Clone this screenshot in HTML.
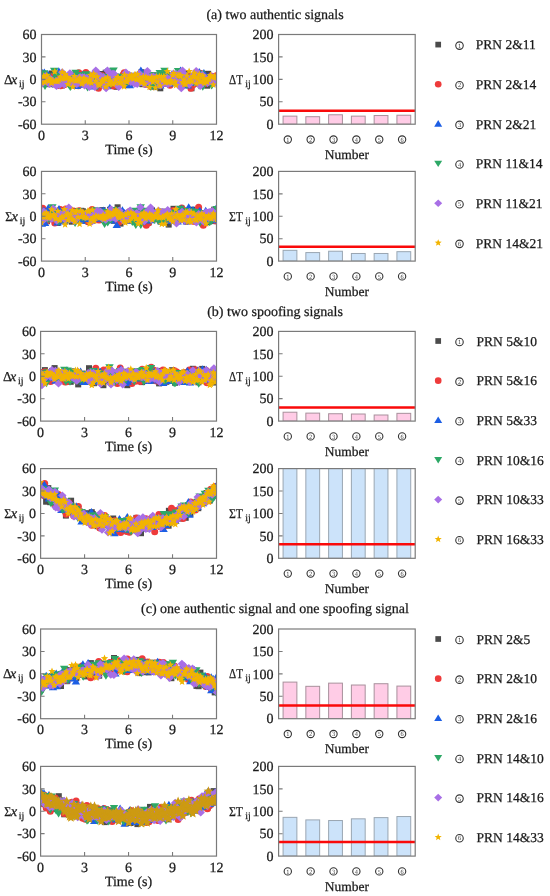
<!DOCTYPE html><html><head><meta charset="utf-8"><style>html,body{margin:0;padding:0;background:#fff;width:550px;height:896px;overflow:hidden}svg{display:block;filter:blur(0.35px)}text{font-family:"Liberation Serif", serif;fill:#1a1a1a;text-rendering:geometricPrecision;stroke:#1a1a1a;stroke-width:0.25px}</style></head><body>
<svg width="550" height="896" viewBox="0 0 550 896">
<defs>
<marker id="m0" markerUnits="userSpaceOnUse" markerWidth="12" markerHeight="12" refX="0" refY="0" overflow="visible"><rect x="-3.00" y="-3.00" width="6.00" height="6.00" fill="#4b4b4b"/></marker>
<marker id="m1" markerUnits="userSpaceOnUse" markerWidth="12" markerHeight="12" refX="0" refY="0" overflow="visible"><circle r="3.50" fill="#EE3B3B"/></marker>
<marker id="m2" markerUnits="userSpaceOnUse" markerWidth="12" markerHeight="12" refX="0" refY="0" overflow="visible"><path d="M0,-4.00 L4.20,2.90 L-4.20,2.90Z" fill="#1C5EE4"/></marker>
<marker id="m3" markerUnits="userSpaceOnUse" markerWidth="12" markerHeight="12" refX="0" refY="0" overflow="visible"><path d="M0,3.70 L4.20,-3.00 L-4.20,-3.00Z" fill="#2DA866"/></marker>
<marker id="m4" markerUnits="userSpaceOnUse" markerWidth="12" markerHeight="12" refX="0" refY="0" overflow="visible"><path d="M0,-4.00 L4.20,0 L0,4.00 L-4.20,0Z" fill="#A86FE6"/></marker>
<marker id="m5" markerUnits="userSpaceOnUse" markerWidth="12" markerHeight="12" refX="0" refY="0" overflow="visible"><path d="M0.00,-3.90 L1.00,-1.38 L3.71,-1.21 L1.62,0.53 L2.29,3.16 L0.00,1.70 L-2.29,3.16 L-1.62,0.53 L-3.71,-1.21 L-1.00,-1.38Z" fill="#F2B400"/></marker>
<marker id="m6" markerUnits="userSpaceOnUse" markerWidth="12" markerHeight="12" refX="0" refY="0" overflow="visible"><path d="M0.00,-5.00 L1.35,-1.86 L4.76,-1.55 L2.19,0.71 L2.94,4.05 L0.00,2.30 L-2.94,4.05 L-2.19,0.71 L-4.76,-1.55 L-1.35,-1.86Z" fill="#CD9A12"/></marker>
</defs>
<text x="275" y="18.6" font-size="14" text-anchor="middle">(a) two authentic signals</text>
<text x="275" y="315.6" font-size="14" text-anchor="middle">(b) two spoofing signals</text>
<text x="275" y="613.3" font-size="14" text-anchor="middle">(c) one authentic signal and one spoofing signal</text>
<clipPath id="c0"><rect x="41.50" y="34.50" width="175.00" height="89.70"/></clipPath>
<g clip-path="url(#c0)" fill="none" stroke="none">
<polyline points="41.6,79.3 43.1,81.8 44.2,80.5 44.7,81.3 46.0,79.3 47.8,80.7 48.0,80.4 50.1,84.2 51.2,82.2 52.0,73.5 53.0,81.7 54.2,83.1 55.3,78.2 56.7,74.4 57.9,84.5 59.2,80.1 60.9,81.6 61.8,85.5 62.8,76.8 64.4,79.4 64.7,79.1 65.8,82.0 67.5,77.8 68.0,81.2 69.1,79.9 70.9,83.2 72.0,83.6 73.7,74.7 74.5,81.1 75.6,78.3 76.7,79.5 77.6,80.9 78.5,81.1 79.9,77.1 81.7,80.4 82.3,79.9 83.6,79.3 84.4,75.2 86.5,77.0 86.9,78.0 88.2,81.3 90.1,84.2 90.8,76.0 92.4,76.0 93.3,79.8 94.6,77.4 95.1,76.6 96.7,76.4 97.9,76.1 99.5,81.0 100.1,74.0 101.5,83.7 102.1,76.3 103.6,77.6 104.7,76.3 105.7,72.7 107.6,74.1 108.3,83.4 110.2,85.3 110.9,76.5 112.1,82.9 113.3,79.4 114.5,76.4 115.1,85.1 116.6,86.8 117.5,78.4 118.9,79.2 119.7,80.2 121.9,79.2 122.2,82.4 123.9,84.7 124.7,79.9 126.5,82.8 127.4,85.1 128.0,77.6 130.0,79.6 131.3,77.9 132.4,82.8 133.2,81.7 133.9,82.9 135.1,82.5 137.1,78.7 137.9,82.1 138.6,78.1 140.6,78.2 141.5,72.2 142.6,84.2 143.5,76.2 144.8,79.7 145.7,79.4 146.7,84.4 148.8,81.0 149.5,76.7 150.8,79.6 151.7,79.1 153.4,80.4 153.7,75.3 155.3,79.4 156.1,87.1 157.3,81.8 159.5,86.3 160.3,88.3 161.2,81.2 162.5,74.7 164.1,79.2 164.6,83.5 166.1,82.7 167.4,75.4 168.2,78.8 169.5,79.2 171.0,79.5 172.3,79.2 172.6,76.5 174.7,77.4 174.8,78.6 176.9,83.0 178.1,77.6 178.5,81.8 180.0,75.5 181.6,83.8 181.9,79.8 183.8,79.4 185.1,84.0 186.0,73.3 187.4,74.2 188.0,81.0 189.1,76.6 190.5,78.0 191.5,88.3 192.8,78.5 194.7,79.6 195.4,79.1 196.3,83.1 197.4,80.3 199.4,80.0 200.0,75.2 201.8,78.2 202.4,79.4 203.6,74.0 205.2,81.3 206.2,80.7 207.2,85.7 208.2,73.8 209.9,76.0 210.5,76.1 212.3,77.0 212.5,79.0 214.1,78.6 215.3,80.2 217.0,80.1" marker-start="url(#m0)" marker-mid="url(#m0)" marker-end="url(#m0)"/>
<polyline points="41.8,78.0 42.9,80.1 43.8,82.0 44.9,77.3 46.1,79.9 46.8,77.2 48.9,79.5 49.8,83.2 50.8,79.7 52.1,79.2 53.5,76.0 54.3,82.5 56.0,79.5 57.3,85.4 57.8,77.1 58.7,83.1 60.6,85.7 62.0,79.6 62.2,75.5 64.1,84.7 65.4,83.2 66.7,82.0 66.9,83.3 68.0,78.0 70.3,82.2 70.4,81.9 71.7,77.3 73.3,82.0 74.3,77.8 75.9,82.8 76.4,83.6 78.4,85.8 78.8,72.8 80.6,80.5 80.9,78.5 82.6,79.5 83.2,78.8 84.7,79.2 85.9,72.6 87.6,83.0 88.4,84.8 89.1,82.9 91.4,84.0 92.5,76.7 93.7,76.5 94.1,82.7 95.4,84.2 96.4,80.6 97.4,74.5 98.5,88.3 100.2,77.5 101.0,83.1 102.2,75.7 104.2,83.1 104.9,80.4 105.7,84.6 107.5,82.8 108.2,74.5 109.7,76.5 110.5,80.8 112.0,82.4 113.3,86.0 114.4,80.7 115.4,79.5 117.0,79.6 118.3,79.7 118.6,83.3 119.8,79.6 120.9,79.5 123.1,74.8 124.2,72.8 124.6,79.8 126.6,82.0 126.9,79.6 128.4,81.5 129.6,82.0 131.2,79.6 131.4,83.0 132.9,77.2 134.4,79.7 135.0,78.5 136.3,80.0 137.8,81.9 139.4,82.7 140.5,80.2 141.7,81.3 142.8,78.5 143.9,79.4 145.3,84.1 146.2,79.1 147.5,84.1 148.1,81.5 149.2,80.4 151.0,86.6 151.5,79.0 153.6,78.8 154.4,79.9 155.2,80.8 157.1,80.7 157.4,82.8 159.0,80.3 159.6,81.3 161.8,79.0 162.6,83.6 164.0,78.5 164.6,78.8 166.3,79.8 167.4,80.9 168.5,77.4 170.0,85.2 170.6,77.7 171.8,78.5 173.3,78.4 174.6,78.0 175.2,81.6 176.8,80.3 177.4,77.1 179.0,77.8 180.4,78.6 180.8,84.7 182.7,77.5 183.0,75.2 185.3,75.8 185.9,78.5 187.0,84.8 188.6,76.0 189.5,79.9 190.9,88.2 191.4,78.0 193.1,84.6 194.3,83.9 195.9,81.6 196.0,74.9 197.7,80.7 199.0,78.4 200.1,73.2 200.7,73.7 202.5,79.7 203.3,80.2 204.4,83.8 206.4,81.8 206.8,77.9 208.2,78.0 209.7,79.0 210.9,75.9 211.9,82.1 213.3,79.5 214.1,76.8 215.5,77.3 216.9,75.6" marker-start="url(#m1)" marker-mid="url(#m1)" marker-end="url(#m1)"/>
<polyline points="42.0,79.5 42.4,72.9 44.3,72.4 45.2,74.7 46.6,76.9 47.3,81.7 48.0,74.3 50.1,79.5 50.6,79.6 51.7,80.4 53.6,79.0 54.6,80.9 55.3,79.6 56.5,83.2 58.5,80.7 58.8,71.3 60.5,79.6 61.0,80.2 63.0,77.5 63.4,76.9 65.0,83.3 65.6,80.1 67.4,76.1 68.9,78.4 69.2,78.9 70.6,73.9 72.3,81.7 73.3,79.1 74.2,81.2 75.7,74.1 76.7,86.2 78.3,81.7 78.8,81.2 80.6,77.0 81.6,77.2 82.9,74.4 83.6,84.9 85.2,76.7 86.4,80.4 87.2,81.7 87.9,77.5 90.2,82.6 91.1,86.6 91.7,80.7 93.4,84.6 94.1,81.6 95.5,78.0 97.1,78.3 97.8,73.8 98.8,80.1 100.0,84.7 100.9,82.0 102.2,82.6 103.5,83.6 104.5,77.8 105.6,81.6 107.2,86.3 108.1,76.9 109.9,79.7 111.3,78.1 111.7,79.0 113.2,77.1 114.3,79.2 115.0,75.0 116.2,77.9 118.3,78.0 119.0,77.9 120.5,84.5 120.9,79.9 122.7,80.3 124.1,78.6 125.3,84.1 125.5,73.6 127.3,79.0 128.3,83.6 129.9,85.4 130.3,80.3 131.7,79.7 133.5,81.9 134.2,79.0 135.4,81.6 137.2,77.4 137.6,81.9 138.4,79.5 140.0,75.9 140.9,70.4 142.0,82.9 143.8,81.0 145.4,82.3 146.1,76.6 147.4,83.4 148.2,81.1 149.6,79.5 151.0,82.8 152.0,82.7 153.4,81.0 154.3,86.7 155.1,84.4 156.7,80.8 157.8,78.8 158.6,80.0 160.3,85.6 161.7,81.0 162.0,76.5 163.7,77.4 165.1,79.6 165.9,82.5 166.9,77.1 168.2,81.4 169.6,83.5 170.9,82.2 171.9,74.3 172.6,78.6 174.6,75.3 175.9,81.0 176.1,76.1 177.4,81.5 178.5,79.9 180.5,70.6 181.7,76.7 181.9,81.1 183.4,79.6 184.4,78.2 185.9,75.1 187.6,81.1 187.8,85.5 189.1,80.3 190.6,79.3 191.9,79.0 193.3,74.7 194.1,78.2 194.9,76.5 196.4,83.2 198.3,76.3 199.2,72.0 199.6,76.6 201.6,78.5 202.2,78.8 203.9,73.1 204.2,82.6 206.4,79.7 206.7,77.7 208.2,76.7 209.6,80.9 210.6,78.3 211.4,80.3 212.6,78.9 213.9,79.8 214.8,83.4 216.2,79.4" marker-start="url(#m2)" marker-mid="url(#m2)" marker-end="url(#m2)"/>
<polyline points="41.7,76.4 43.0,79.5 44.2,73.2 45.0,86.3 45.8,80.4 46.8,76.3 49.0,80.6 50.3,82.1 50.6,80.3 52.5,84.2 53.1,78.9 54.2,70.8 55.6,75.3 56.2,83.2 57.9,82.4 58.8,80.8 60.5,75.8 61.5,82.2 63.1,81.8 64.3,76.2 64.8,76.3 65.9,80.7 67.9,83.3 68.5,84.8 69.2,81.8 70.3,87.2 72.6,76.7 73.3,81.6 73.9,77.7 75.6,72.8 76.7,75.2 77.8,83.4 79.6,76.3 80.8,75.3 81.0,82.0 82.2,82.7 83.7,79.7 85.3,85.0 86.3,74.2 87.6,87.8 88.6,83.2 89.3,80.3 91.2,80.1 91.4,78.8 93.4,78.4 94.0,80.1 95.5,75.4 97.3,86.9 97.9,79.4 98.5,81.9 100.1,78.9 101.6,78.6 102.1,82.6 103.5,81.6 104.4,76.6 106.1,78.1 107.1,81.7 108.5,72.2 109.4,71.2 111.0,84.5 111.6,78.3 113.6,70.5 114.9,76.6 115.5,78.6 116.6,80.1 118.3,81.3 118.8,80.1 120.5,81.3 121.1,76.7 122.8,80.7 123.5,80.9 125.0,83.6 126.6,79.5 126.7,82.5 128.8,80.0 129.6,75.7 130.6,78.1 131.8,77.6 132.6,78.1 134.0,79.1 135.6,79.8 136.2,80.4 138.0,76.7 139.5,83.2 140.7,74.6 141.8,79.2 142.9,82.0 143.3,81.1 145.4,81.7 145.7,78.8 147.6,81.9 148.8,75.3 149.7,82.1 150.8,87.3 151.6,81.9 153.1,86.4 154.0,79.5 155.0,75.6 156.2,77.1 158.1,84.0 159.4,82.0 159.7,73.1 160.7,78.2 162.2,79.3 163.2,75.6 164.5,70.7 166.1,74.8 167.1,78.9 168.3,78.1 169.2,77.2 170.9,81.5 171.6,83.1 172.9,79.2 174.2,82.7 175.9,79.6 176.3,79.0 178.0,71.1 178.7,82.3 180.6,79.8 181.1,79.9 182.4,77.8 184.1,75.7 185.0,81.1 185.5,82.2 186.7,85.1 188.9,82.6 188.9,77.5 190.4,79.2 192.4,82.9 192.4,80.7 193.8,79.2 195.0,77.6 196.1,81.4 197.7,80.2 199.0,85.7 199.8,83.4 200.8,73.7 202.8,87.0 203.9,80.5 204.8,78.6 205.5,80.7 207.2,82.2 208.4,79.6 209.4,79.4 211.1,79.6 211.7,85.9 213.0,79.9 213.7,82.4 215.4,81.3 216.8,78.6" marker-start="url(#m3)" marker-mid="url(#m3)" marker-end="url(#m3)"/>
<polyline points="42.0,83.7 42.9,80.1 44.3,78.4 45.4,76.2 46.0,77.9 46.9,78.0 48.8,82.0 49.3,83.9 50.8,79.1 52.6,81.8 53.3,83.9 54.4,83.8 56.1,81.1 56.5,85.9 58.5,84.1 59.6,85.1 60.1,78.7 61.3,77.9 62.2,72.3 64.3,84.6 64.6,81.7 65.6,76.1 67.8,80.1 68.6,80.5 69.9,73.3 71.1,80.5 71.5,83.4 72.7,84.0 74.4,78.2 75.0,78.3 76.7,84.2 78.2,82.8 79.3,77.5 80.4,77.3 80.9,81.6 82.3,77.2 84.2,77.3 84.5,85.6 86.2,80.4 86.8,77.9 89.0,81.4 89.3,86.9 90.7,80.3 92.1,76.7 93.4,73.8 94.9,87.0 95.8,70.4 96.5,83.3 97.4,76.0 99.3,75.0 100.8,75.9 100.8,78.8 102.9,83.4 103.4,77.1 104.9,81.9 106.1,88.2 107.4,70.4 109.0,76.9 109.8,73.0 110.7,82.6 112.2,74.2 113.1,73.8 114.2,73.9 115.3,79.4 116.7,83.6 117.6,80.0 118.7,87.1 119.8,85.3 121.3,79.0 122.3,82.8 124.1,79.9 125.3,79.7 125.9,72.6 127.4,74.8 128.9,79.5 129.4,75.1 130.8,82.1 131.9,80.5 133.3,76.2 134.8,83.7 135.0,80.3 137.2,84.0 138.0,78.9 139.3,73.6 140.3,82.0 141.8,78.6 142.3,82.5 143.9,83.4 144.6,83.7 146.0,74.2 147.4,71.1 148.0,77.7 149.0,81.9 151.1,76.9 152.3,80.5 153.3,76.5 154.0,78.3 155.6,78.4 156.1,77.2 158.0,81.4 159.0,80.8 160.3,85.4 161.2,80.9 162.2,84.3 163.9,79.9 164.8,82.7 166.3,79.0 167.0,77.8 167.9,84.3 169.6,82.2 170.8,82.7 172.4,76.7 173.5,73.4 173.7,76.4 175.7,80.6 176.3,74.2 178.0,84.7 178.8,74.1 179.9,81.7 181.3,88.3 182.5,70.4 183.8,73.8 184.9,83.0 186.2,78.8 187.0,80.1 188.5,79.0 189.3,84.6 190.8,81.7 191.8,77.7 193.1,78.6 193.6,75.1 195.4,79.1 196.2,71.1 197.6,81.9 198.4,78.4 200.2,86.1 201.7,83.8 202.2,74.7 203.1,82.7 204.9,77.5 205.5,79.6 207.6,83.0 207.8,80.6 209.3,81.2 210.6,81.1 211.4,76.7 212.8,77.1 213.9,81.4 215.6,82.5 217.1,78.4" marker-start="url(#m4)" marker-mid="url(#m4)" marker-end="url(#m4)"/>
<polyline points="41.7,82.6 43.1,78.4 43.7,76.2 44.7,82.3 45.6,80.1 46.9,75.4 49.0,81.1 49.9,78.7 51.5,83.0 51.6,82.3 53.1,81.2 54.8,71.7 55.8,80.8 56.3,81.2 57.8,81.3 59.3,79.9 60.5,77.0 61.4,78.7 62.3,72.1 64.4,78.6 65.0,74.3 66.4,78.4 67.4,77.2 68.0,84.4 69.4,79.8 70.4,79.6 71.7,80.2 72.9,86.9 74.3,76.3 75.4,80.7 76.6,80.9 78.3,80.2 78.5,80.2 79.8,77.9 81.8,83.8 82.6,82.6 83.7,78.3 84.7,78.8 86.2,80.7 87.0,81.4 88.9,82.3 90.0,79.6 90.6,75.2 91.4,83.1 93.6,74.0 94.1,76.4 95.7,80.9 97.1,76.6 98.2,84.5 99.5,85.4 100.2,83.9 101.8,80.8 102.5,80.5 103.5,81.2 104.9,79.0 105.9,86.9 107.6,77.6 108.8,84.3 109.2,81.7 110.4,80.8 111.8,83.4 113.1,84.2 114.9,82.9 116.0,79.4 117.2,77.3 118.1,77.4 119.2,82.8 119.9,82.1 121.2,82.6 122.0,77.8 124.1,86.5 124.6,75.0 125.6,81.1 127.0,82.1 128.2,78.2 129.8,75.7 130.2,78.1 131.6,75.7 133.6,78.9 134.7,75.0 135.6,75.0 136.7,79.7 137.5,74.3 139.4,78.8 140.5,79.0 141.3,82.6 142.1,80.4 143.3,76.6 144.7,84.0 145.8,77.1 146.7,78.1 148.3,78.4 149.5,87.1 150.5,79.7 151.8,77.1 152.9,82.0 154.1,79.0 155.6,87.7 156.6,77.0 157.4,81.7 159.3,76.3 160.1,85.8 161.3,76.9 162.7,80.2 163.9,76.5 165.2,82.6 166.4,81.5 167.4,71.5 168.6,82.3 169.1,81.8 170.9,80.3 171.6,82.9 172.8,75.2 173.8,73.3 175.3,81.8 176.0,85.4 177.9,75.2 179.2,75.5 180.4,76.5 180.8,75.3 182.6,82.4 184.0,79.9 184.2,84.2 185.6,84.3 186.9,75.9 188.3,81.7 189.1,71.3 190.7,79.1 191.7,81.6 193.2,76.5 194.2,73.0 195.6,77.6 196.2,83.6 197.9,78.0 199.2,74.5 200.3,81.1 200.7,82.1 202.9,75.8 203.7,78.9 204.5,83.2 205.9,80.7 207.1,82.0 208.3,78.3 209.2,79.0 210.4,75.3 211.6,76.9 213.3,84.8 214.1,77.9 214.8,76.2 216.4,77.7" marker-start="url(#m5)" marker-mid="url(#m5)" marker-end="url(#m5)"/>
</g>
<rect x="41.50" y="34.50" width="175.00" height="89.70" fill="none" stroke="#7a7a7a" stroke-width="1.2"/>
<path d="M41.50,56.92h4M41.50,79.35h4M41.50,101.77h4M85.25,124.20v-4M129.00,124.20v-4M172.75,124.20v-4" stroke="#7a7a7a" stroke-width="1.1" fill="none"/>
<text x="36.60" y="39.20" font-size="14" text-anchor="end">60</text>
<text x="36.60" y="61.62" font-size="14" text-anchor="end">30</text>
<text x="36.60" y="84.05" font-size="14" text-anchor="end">0</text>
<text x="36.60" y="106.47" font-size="14" text-anchor="end">-30</text>
<text x="36.60" y="128.90" font-size="14" text-anchor="end">-60</text>
<text x="41.50" y="139.80" font-size="14" text-anchor="middle">0</text>
<text x="85.25" y="139.80" font-size="14" text-anchor="middle">3</text>
<text x="129.00" y="139.80" font-size="14" text-anchor="middle">6</text>
<text x="172.75" y="139.80" font-size="14" text-anchor="middle">9</text>
<text x="216.50" y="139.80" font-size="14" text-anchor="middle">12</text>
<text x="129.00" y="153.90" font-size="14" text-anchor="middle">Time (s)</text>
<text x="4.00" y="83.75" font-size="13.5">&#916;</text><text x="10.90" y="83.75" font-size="14" font-style="italic">x</text><text x="18.90" y="86.75" font-size="10">ij</text>
<clipPath id="b0"><rect x="278.60" y="34.50" width="136.60" height="89.70"/></clipPath>
<g clip-path="url(#b0)" fill="#FFCCE6" stroke="#A8909C" stroke-width="1">
<rect x="283.08" y="116.13" width="13.8" height="8.07"/>
<rect x="305.85" y="116.71" width="13.8" height="7.49"/>
<rect x="328.62" y="114.78" width="13.8" height="9.42"/>
<rect x="351.38" y="116.13" width="13.8" height="8.07"/>
<rect x="374.15" y="115.54" width="13.8" height="8.66"/>
<rect x="396.92" y="115.23" width="13.8" height="8.97"/>
</g>
<path d="M278.60,110.80H415.20" stroke="#FA0A0A" stroke-width="2.5"/>
<rect x="278.60" y="34.50" width="136.60" height="89.70" fill="none" stroke="#7a7a7a" stroke-width="1.2"/>
<path d="M278.60,56.92h4M278.60,79.35h4M278.60,101.78h4" stroke="#7a7a7a" stroke-width="1.1" fill="none"/>
<text x="273.6" y="39.20" font-size="14" text-anchor="end">200</text>
<text x="273.6" y="61.62" font-size="14" text-anchor="end">150</text>
<text x="273.6" y="84.05" font-size="14" text-anchor="end">100</text>
<text x="273.6" y="106.48" font-size="14" text-anchor="end">50</text>
<text x="273.6" y="128.90" font-size="14" text-anchor="end">0</text>
<circle cx="287.80" cy="139.50" r="3.65" fill="none" stroke="#333" stroke-width="1.1"/>
<text x="287.80" y="141.60" font-size="6.3" text-anchor="middle" style="fill:#3a3a3a;stroke:none">1</text>
<circle cx="310.66" cy="139.50" r="3.65" fill="none" stroke="#333" stroke-width="1.1"/>
<text x="310.66" y="141.60" font-size="6.3" text-anchor="middle" style="fill:#3a3a3a;stroke:none">2</text>
<circle cx="333.52" cy="139.50" r="3.65" fill="none" stroke="#333" stroke-width="1.1"/>
<text x="333.52" y="141.60" font-size="6.3" text-anchor="middle" style="fill:#3a3a3a;stroke:none">3</text>
<circle cx="356.38" cy="139.50" r="3.65" fill="none" stroke="#333" stroke-width="1.1"/>
<text x="356.38" y="141.60" font-size="6.3" text-anchor="middle" style="fill:#3a3a3a;stroke:none">4</text>
<circle cx="379.24" cy="139.50" r="3.65" fill="none" stroke="#333" stroke-width="1.1"/>
<text x="379.24" y="141.60" font-size="6.3" text-anchor="middle" style="fill:#3a3a3a;stroke:none">5</text>
<circle cx="402.10" cy="139.50" r="3.65" fill="none" stroke="#333" stroke-width="1.1"/>
<text x="402.10" y="141.60" font-size="6.3" text-anchor="middle" style="fill:#3a3a3a;stroke:none">6</text>
<text x="346.90" y="158.70" font-size="13.5" text-anchor="middle">Number</text>
<text x="229" y="83.95" font-size="13.5" textLength="14" lengthAdjust="spacingAndGlyphs">&#916;T</text><text x="245.3" y="86.95" font-size="10">ij</text>
<clipPath id="c1"><rect x="41.50" y="171.40" width="175.00" height="89.70"/></clipPath>
<g clip-path="url(#c1)" fill="none" stroke="none">
<polyline points="41.3,216.5 42.8,213.0 44.4,211.8 44.8,220.2 46.6,217.5 46.9,221.2 48.8,215.8 50.1,216.6 51.3,217.5 52.6,218.7 53.5,217.6 55.0,218.9 55.3,214.4 56.8,210.9 57.6,223.0 58.6,216.7 60.2,217.7 61.7,214.5 63.0,219.6 63.3,216.8 65.5,219.9 65.9,213.8 67.1,215.9 68.9,216.8 70.1,214.9 71.1,217.1 71.8,221.7 73.2,214.2 74.8,215.2 75.4,216.8 77.1,212.8 78.2,212.0 79.0,220.1 80.7,219.0 81.3,210.8 82.9,211.3 83.9,218.8 84.8,220.4 86.2,218.5 87.4,218.0 88.5,221.8 89.2,216.1 91.4,220.7 92.5,220.5 92.6,213.0 94.9,218.7 95.6,216.5 96.3,214.0 98.2,213.4 99.0,217.4 100.5,216.1 101.8,219.1 102.6,210.1 103.2,214.0 105.3,220.1 106.3,216.2 107.8,213.7 108.2,214.6 110.0,209.8 111.2,211.4 111.8,218.1 113.0,216.6 114.1,220.8 114.9,215.4 116.4,215.7 117.6,207.3 118.6,215.9 120.5,223.6 121.3,218.6 122.6,215.9 123.5,220.7 124.7,219.3 126.4,217.5 127.2,215.0 128.5,216.8 129.5,219.4 130.8,213.5 132.4,218.1 132.8,218.0 134.3,221.1 135.7,219.0 136.2,214.0 138.3,221.9 139.0,216.5 139.9,213.7 141.6,217.6 142.9,215.4 143.8,220.2 145.3,211.6 145.6,212.4 147.2,215.4 148.7,222.4 150.0,219.9 150.9,212.8 152.0,210.2 152.9,215.2 154.3,211.9 155.5,218.4 157.1,216.9 158.2,216.2 159.2,214.8 160.6,221.6 160.8,212.9 162.8,211.6 163.6,220.3 165.1,221.0 165.8,215.0 167.1,218.5 168.7,224.6 169.0,213.4 170.5,215.7 171.9,217.9 173.5,208.8 173.9,215.8 175.8,218.9 176.3,215.9 177.5,219.9 179.0,218.9 180.3,214.9 181.7,218.2 182.9,217.8 183.3,210.4 185.1,213.2 186.1,213.4 187.0,214.4 188.6,214.5 190.0,211.1 190.6,216.3 192.3,209.7 192.6,219.6 193.8,217.1 195.7,221.1 196.3,217.5 197.8,214.4 198.9,211.2 199.6,218.6 201.5,216.2 202.7,217.5 203.2,218.8 204.5,220.4 206.3,216.0 207.6,222.3 208.7,215.9 209.5,216.2 210.5,218.6 211.7,219.8 212.6,221.1 214.1,209.7 215.0,221.0 216.1,210.8" marker-start="url(#m0)" marker-mid="url(#m0)" marker-end="url(#m0)"/>
<polyline points="41.6,211.1 42.7,208.2 44.1,212.8 44.8,212.7 46.2,221.2 47.3,216.7 48.7,219.1 49.4,218.3 50.3,212.9 51.6,219.1 52.9,216.7 54.8,223.0 55.8,216.8 57.1,215.9 57.9,218.7 58.7,218.8 60.3,209.6 61.9,220.5 62.7,219.9 64.0,219.1 64.8,212.0 65.8,208.9 67.5,215.1 68.5,218.8 69.5,217.8 70.6,212.5 72.3,219.5 73.0,211.1 74.5,211.3 75.3,216.0 77.0,214.0 77.8,213.6 79.1,210.8 80.8,219.9 81.7,212.1 82.9,217.6 83.6,218.9 85.4,215.9 86.0,217.0 87.9,219.7 88.9,221.9 89.8,219.6 91.2,211.1 92.1,209.4 93.4,214.0 93.9,212.1 96.1,218.1 97.1,216.5 97.5,215.3 98.8,220.0 100.3,219.7 101.7,215.9 102.2,217.4 104.3,220.0 104.7,214.9 106.7,217.2 107.6,212.7 108.4,216.3 109.5,217.3 110.3,215.8 111.5,216.9 113.3,218.6 114.6,217.7 116.0,213.6 116.5,214.0 118.4,211.7 118.8,222.2 120.7,217.6 121.9,217.7 122.1,215.6 124.1,217.8 125.1,218.1 126.3,213.5 127.6,215.6 128.5,220.3 129.6,211.6 130.6,212.7 132.4,218.3 133.6,213.3 133.9,218.8 135.8,212.3 136.4,217.0 137.4,219.1 138.6,217.6 140.2,218.9 141.1,215.6 142.2,215.6 143.2,216.1 144.7,218.2 146.3,225.2 146.6,215.9 148.4,222.9 149.7,215.4 150.2,212.3 151.7,215.3 153.6,217.6 154.8,216.9 155.8,216.7 156.2,218.2 158.1,218.3 158.9,219.5 159.7,212.1 161.3,216.3 163.0,212.9 164.1,217.1 164.7,216.0 165.5,216.8 167.6,214.6 168.9,213.3 169.5,215.4 170.4,218.6 171.9,219.0 173.3,210.4 174.2,217.2 175.2,217.3 176.3,211.1 177.5,212.4 178.4,214.4 179.8,217.7 181.8,208.0 181.9,214.9 183.9,214.3 185.1,216.9 185.9,221.2 187.2,220.9 188.0,214.8 189.7,214.9 190.9,217.1 192.1,220.4 193.0,221.3 194.7,217.4 195.8,221.4 196.6,213.1 197.9,212.2 198.6,207.3 200.6,213.2 201.4,218.3 202.9,219.3 203.3,225.2 205.3,218.3 205.5,216.9 207.1,212.8 207.8,214.1 209.1,214.2 210.9,215.5 211.3,213.9 212.8,211.2 213.8,220.0 215.7,217.9 216.0,221.1" marker-start="url(#m1)" marker-mid="url(#m1)" marker-end="url(#m1)"/>
<polyline points="41.9,223.8 42.5,214.8 43.8,210.4 45.1,223.0 45.9,212.1 47.1,218.2 48.3,208.0 49.4,214.7 50.9,216.9 51.6,212.4 53.6,214.4 54.0,218.3 55.5,213.8 56.9,218.0 57.5,222.5 59.0,209.1 60.4,217.5 61.5,218.4 63.1,215.1 64.1,221.7 64.5,221.0 66.6,218.0 67.4,218.1 68.7,216.0 69.3,212.3 70.8,217.9 72.3,214.5 73.6,214.1 74.7,220.1 75.2,215.4 77.1,219.6 78.0,212.5 79.3,214.7 80.7,216.2 81.3,221.0 83.1,215.8 84.2,218.9 85.3,213.8 86.0,216.7 87.3,219.1 88.1,213.0 90.0,213.7 91.3,218.3 91.6,212.2 93.5,217.3 94.6,217.3 95.0,215.8 97.2,218.9 97.9,217.8 98.8,216.8 99.7,210.9 101.7,211.0 102.4,217.2 103.8,210.6 104.6,216.4 106.2,214.9 107.2,213.1 108.8,215.2 109.8,207.8 111.1,215.4 111.7,220.5 112.6,211.7 114.8,217.7 116.0,217.3 116.8,225.2 118.3,212.7 119.3,213.4 120.3,213.4 121.3,212.8 122.4,210.3 123.7,216.4 124.6,213.0 126.0,218.9 127.2,217.5 127.9,212.5 129.5,214.9 130.5,220.9 132.1,215.0 133.5,216.9 134.4,219.1 135.7,214.7 136.8,217.7 137.5,221.8 138.8,220.2 140.6,210.0 141.9,221.6 142.1,215.5 143.1,214.1 145.4,214.0 146.4,220.6 147.3,217.4 148.7,215.8 149.7,213.4 151.2,218.5 151.6,220.3 153.0,212.7 154.5,212.4 155.1,214.9 156.9,218.4 157.5,214.8 159.2,215.9 160.5,213.3 161.2,220.6 163.0,215.8 163.8,216.8 165.1,220.1 165.4,215.5 166.7,216.1 168.6,217.7 170.0,214.9 170.8,221.2 172.4,216.4 172.5,214.7 174.7,215.3 175.8,212.5 176.7,220.5 177.7,221.5 179.2,215.4 179.8,214.7 181.5,208.8 182.7,214.1 183.7,219.3 184.5,213.4 185.4,219.2 186.8,221.5 188.7,207.3 189.2,215.1 190.2,213.7 191.5,214.3 193.0,209.9 194.3,215.3 195.8,212.0 196.9,219.9 198.3,221.1 199.3,211.2 200.0,211.1 200.8,214.5 202.9,215.5 203.3,215.7 204.9,218.7 205.7,210.8 207.5,213.9 207.9,214.5 209.4,214.9 210.3,212.6 212.2,214.5 213.1,213.6 214.3,220.4 215.1,214.5 216.1,208.6" marker-start="url(#m2)" marker-mid="url(#m2)" marker-end="url(#m2)"/>
<polyline points="41.7,219.8 43.1,216.7 43.9,214.1 45.3,216.8 46.6,218.7 46.9,215.7 48.5,219.6 49.8,216.4 50.4,218.5 52.4,207.3 53.5,213.4 54.9,219.2 55.4,219.8 56.7,217.8 58.4,222.0 59.0,218.8 60.7,218.8 61.4,213.1 62.5,217.7 63.6,219.0 64.7,221.0 66.1,220.4 66.9,216.5 68.9,217.0 70.2,212.3 70.4,218.5 71.5,212.5 72.6,215.3 74.9,216.3 75.1,223.3 76.9,220.8 77.7,213.6 78.7,211.3 80.0,215.5 81.7,213.6 82.0,217.7 84.2,217.6 85.0,218.6 85.8,212.8 87.0,215.0 88.7,217.1 89.8,217.4 90.6,214.3 91.8,215.1 93.1,219.2 94.8,210.2 95.6,215.3 97.1,216.2 98.0,211.1 99.1,212.7 100.2,216.6 101.6,214.4 102.6,220.0 104.0,218.5 104.6,224.2 105.9,212.0 107.7,222.9 108.3,213.9 110.0,219.2 111.3,219.7 112.1,216.9 112.7,215.3 114.6,214.1 115.7,210.0 116.4,215.0 118.3,213.2 119.0,218.4 119.7,213.7 120.9,215.7 122.2,217.9 123.8,216.6 125.3,216.5 125.6,215.6 126.7,214.8 128.6,218.0 129.5,218.9 130.7,213.6 132.3,222.2 133.6,218.4 134.8,210.8 135.8,225.2 136.1,218.7 137.4,213.8 139.1,222.0 140.7,207.3 140.8,225.2 142.5,211.2 143.6,210.8 144.7,213.0 145.8,217.0 146.9,215.0 148.1,219.4 149.1,213.4 150.8,220.2 151.8,217.2 153.3,212.7 154.4,220.2 156.0,217.5 156.4,215.7 158.2,221.0 158.8,212.2 160.3,215.1 161.7,221.6 162.4,216.4 163.6,219.0 165.0,218.6 165.5,216.0 167.2,218.7 167.9,212.9 169.2,218.7 170.8,212.8 172.4,216.4 173.6,213.2 173.9,218.2 175.0,218.0 176.6,220.3 177.7,214.2 178.8,213.0 180.4,208.8 181.5,211.7 182.5,215.4 183.8,217.0 184.9,214.9 186.2,216.3 187.6,211.1 188.8,212.9 190.0,219.2 191.1,218.7 191.4,211.4 193.0,215.2 194.5,217.1 195.1,212.1 196.7,217.6 197.2,217.2 198.5,217.9 199.9,223.1 200.7,213.2 202.3,220.5 203.3,218.2 205.2,218.9 205.7,213.7 207.0,216.5 208.6,216.2 209.5,222.2 210.1,216.6 211.5,221.4 213.1,215.2 213.8,215.0 215.0,216.3 216.6,209.1" marker-start="url(#m3)" marker-mid="url(#m3)" marker-end="url(#m3)"/>
<polyline points="42.0,221.0 42.6,221.1 43.7,211.5 45.0,213.8 46.1,215.9 47.3,217.8 48.5,216.1 50.0,216.2 50.6,217.4 51.7,218.7 53.2,208.6 53.9,215.4 55.5,218.4 56.8,220.8 58.3,218.8 58.7,213.7 60.2,213.6 61.8,217.0 62.5,216.1 64.2,217.3 65.2,220.1 65.6,211.7 67.2,214.9 68.8,207.5 69.7,218.9 71.1,216.7 72.6,213.1 73.4,217.1 74.4,221.1 76.0,219.6 76.7,215.9 77.3,215.0 78.8,216.6 80.4,212.7 82.0,212.8 82.7,215.1 83.5,216.2 85.5,217.1 86.0,214.3 87.0,213.0 88.5,216.0 89.5,214.7 90.4,217.4 92.3,221.2 93.4,219.8 94.9,213.6 95.1,214.7 97.2,210.7 98.2,216.1 98.8,213.2 100.2,211.6 101.6,212.8 102.4,218.4 103.3,216.9 105.3,215.8 105.7,219.7 107.3,214.6 108.4,212.7 110.1,217.9 110.9,209.3 111.9,217.3 113.7,217.0 114.1,217.1 115.8,218.7 116.4,214.8 118.1,216.2 119.3,210.4 120.6,214.1 121.3,214.4 122.2,217.0 123.9,221.2 125.4,216.6 125.8,219.2 126.7,212.9 128.0,216.4 130.1,210.4 130.2,213.7 131.4,213.3 132.6,215.4 134.7,215.5 135.3,214.0 136.9,213.0 138.0,218.7 138.9,214.5 140.4,207.3 141.3,216.6 142.6,217.1 143.5,218.7 144.3,221.3 146.1,212.1 146.9,216.0 148.1,215.2 150.0,209.8 150.6,207.4 151.4,219.4 153.2,212.5 154.3,214.1 154.9,214.8 156.4,214.6 157.9,216.3 158.7,210.7 160.7,214.1 161.6,215.0 162.5,211.9 164.1,213.1 164.3,214.6 165.7,215.1 167.7,210.1 168.4,214.5 169.1,216.6 170.8,219.3 172.1,217.4 173.2,219.9 173.7,215.9 174.9,215.3 176.5,223.4 177.2,216.2 178.4,214.0 180.3,215.7 181.2,219.6 182.0,211.8 184.1,218.7 184.6,220.6 186.4,220.0 187.3,216.3 188.5,212.8 189.4,212.1 190.9,215.5 191.5,220.4 192.7,218.6 194.6,219.4 195.0,216.9 196.4,222.5 198.0,215.9 198.7,214.0 199.9,216.8 201.7,214.6 202.1,219.5 203.3,221.4 205.2,218.5 205.7,212.2 206.9,212.6 208.7,217.9 209.2,212.0 211.2,217.4 212.2,210.9 213.4,214.6 213.8,217.8 215.0,213.5 216.8,219.0" marker-start="url(#m4)" marker-mid="url(#m4)" marker-end="url(#m4)"/>
<polyline points="41.3,222.6 42.9,217.4 44.2,213.9 44.6,216.9 46.5,212.9 47.9,217.5 48.6,216.2 49.9,217.6 50.7,215.0 51.7,209.6 53.5,215.0 54.8,215.6 55.3,218.4 56.3,218.9 57.8,211.1 59.3,220.2 60.1,219.5 62.0,216.6 63.0,217.7 64.3,209.4 65.1,224.6 66.5,215.0 67.9,213.7 68.0,220.2 69.8,218.5 70.5,214.7 72.4,210.5 72.9,219.5 74.7,221.8 75.4,212.8 76.9,210.9 78.1,217.4 79.6,224.0 80.7,211.1 81.4,216.9 82.8,212.3 83.4,216.4 84.5,217.6 86.4,217.8 87.8,211.1 88.8,211.2 89.7,223.8 91.0,219.5 92.3,210.0 93.3,217.5 94.2,221.0 95.9,216.2 96.5,216.6 98.3,216.6 99.4,217.9 100.6,217.3 101.8,217.9 103.1,215.1 104.3,219.1 104.9,217.3 106.0,216.8 107.5,211.7 109.0,214.9 109.8,216.6 110.2,214.4 111.4,214.8 113.1,212.4 114.7,214.5 115.9,209.9 116.5,211.5 117.9,216.4 119.0,217.7 119.7,213.1 120.8,214.4 122.6,216.6 123.7,221.4 125.3,222.7 125.7,215.0 127.6,213.5 128.1,213.4 129.6,220.8 131.0,212.6 131.5,218.1 133.6,214.9 134.8,214.8 136.0,219.1 136.1,218.3 138.0,223.5 139.2,219.5 140.6,222.6 141.0,214.7 142.1,216.0 144.0,213.0 144.6,215.0 145.5,218.5 146.7,215.0 148.5,217.6 149.6,214.1 151.0,215.1 152.3,219.7 152.5,216.2 154.8,216.1 155.9,217.3 157.1,213.1 158.1,210.2 158.8,217.5 159.8,217.5 161.8,224.1 162.4,216.7 163.6,217.8 165.1,223.8 166.2,215.2 167.4,214.2 168.5,218.8 169.5,217.6 171.0,219.6 171.7,213.6 172.8,221.6 174.7,217.4 175.8,209.4 176.8,216.1 177.4,214.6 178.4,216.8 180.6,220.4 181.8,216.4 182.2,214.8 183.8,219.8 184.2,215.0 185.8,211.9 187.4,212.5 188.1,221.8 189.8,219.7 191.1,221.9 191.4,212.5 193.2,214.1 194.0,213.8 195.0,219.3 196.4,220.3 197.7,216.0 199.3,215.9 200.4,219.3 200.7,215.8 201.9,214.0 204.2,215.4 204.8,219.9 206.1,223.7 206.9,217.2 208.7,215.7 209.5,217.2 210.7,217.8 211.5,218.7 213.3,213.7 213.8,216.4 214.9,215.8 216.6,219.7" marker-start="url(#m5)" marker-mid="url(#m5)" marker-end="url(#m5)"/>
</g>
<rect x="41.50" y="171.40" width="175.00" height="89.70" fill="none" stroke="#7a7a7a" stroke-width="1.2"/>
<path d="M41.50,193.82h4M41.50,216.25h4M41.50,238.68h4M85.25,261.10v-4M129.00,261.10v-4M172.75,261.10v-4" stroke="#7a7a7a" stroke-width="1.1" fill="none"/>
<text x="36.60" y="176.10" font-size="14" text-anchor="end">60</text>
<text x="36.60" y="198.52" font-size="14" text-anchor="end">30</text>
<text x="36.60" y="220.95" font-size="14" text-anchor="end">0</text>
<text x="36.60" y="243.38" font-size="14" text-anchor="end">-30</text>
<text x="36.60" y="265.80" font-size="14" text-anchor="end">-60</text>
<text x="41.50" y="276.70" font-size="14" text-anchor="middle">0</text>
<text x="85.25" y="276.70" font-size="14" text-anchor="middle">3</text>
<text x="129.00" y="276.70" font-size="14" text-anchor="middle">6</text>
<text x="172.75" y="276.70" font-size="14" text-anchor="middle">9</text>
<text x="216.50" y="276.70" font-size="14" text-anchor="middle">12</text>
<text x="129.00" y="290.80" font-size="14" text-anchor="middle">Time (s)</text>
<text x="5.20" y="220.65" font-size="13.5" textLength="6.9" lengthAdjust="spacingAndGlyphs">&#931;</text><text x="11.60" y="220.65" font-size="14.5" font-style="italic">x</text><text x="19.70" y="223.65" font-size="10">ij</text>
<clipPath id="b1"><rect x="278.60" y="171.40" width="136.60" height="89.70"/></clipPath>
<g clip-path="url(#b1)" fill="#CCE3FA" stroke="#9AA6B2" stroke-width="1">
<rect x="283.08" y="250.34" width="13.8" height="10.76"/>
<rect x="305.85" y="252.58" width="13.8" height="8.52"/>
<rect x="328.62" y="251.23" width="13.8" height="9.87"/>
<rect x="351.38" y="253.48" width="13.8" height="7.62"/>
<rect x="374.15" y="253.48" width="13.8" height="7.62"/>
<rect x="396.92" y="251.68" width="13.8" height="9.42"/>
</g>
<path d="M278.60,246.80H415.20" stroke="#FA0A0A" stroke-width="2.5"/>
<rect x="278.60" y="171.40" width="136.60" height="89.70" fill="none" stroke="#7a7a7a" stroke-width="1.2"/>
<path d="M278.60,193.83h4M278.60,216.25h4M278.60,238.68h4" stroke="#7a7a7a" stroke-width="1.1" fill="none"/>
<text x="273.6" y="176.10" font-size="14" text-anchor="end">200</text>
<text x="273.6" y="198.53" font-size="14" text-anchor="end">150</text>
<text x="273.6" y="220.95" font-size="14" text-anchor="end">100</text>
<text x="273.6" y="243.38" font-size="14" text-anchor="end">50</text>
<text x="273.6" y="265.80" font-size="14" text-anchor="end">0</text>
<circle cx="287.80" cy="276.40" r="3.65" fill="none" stroke="#333" stroke-width="1.1"/>
<text x="287.80" y="278.50" font-size="6.3" text-anchor="middle" style="fill:#3a3a3a;stroke:none">1</text>
<circle cx="310.66" cy="276.40" r="3.65" fill="none" stroke="#333" stroke-width="1.1"/>
<text x="310.66" y="278.50" font-size="6.3" text-anchor="middle" style="fill:#3a3a3a;stroke:none">2</text>
<circle cx="333.52" cy="276.40" r="3.65" fill="none" stroke="#333" stroke-width="1.1"/>
<text x="333.52" y="278.50" font-size="6.3" text-anchor="middle" style="fill:#3a3a3a;stroke:none">3</text>
<circle cx="356.38" cy="276.40" r="3.65" fill="none" stroke="#333" stroke-width="1.1"/>
<text x="356.38" y="278.50" font-size="6.3" text-anchor="middle" style="fill:#3a3a3a;stroke:none">4</text>
<circle cx="379.24" cy="276.40" r="3.65" fill="none" stroke="#333" stroke-width="1.1"/>
<text x="379.24" y="278.50" font-size="6.3" text-anchor="middle" style="fill:#3a3a3a;stroke:none">5</text>
<circle cx="402.10" cy="276.40" r="3.65" fill="none" stroke="#333" stroke-width="1.1"/>
<text x="402.10" y="278.50" font-size="6.3" text-anchor="middle" style="fill:#3a3a3a;stroke:none">6</text>
<text x="346.90" y="295.60" font-size="13.5" text-anchor="middle">Number</text>
<text x="229" y="220.85" font-size="13.5" textLength="14" lengthAdjust="spacingAndGlyphs">&#931;T</text><text x="245.3" y="223.85" font-size="10">ij</text>
<clipPath id="c2"><rect x="40.60" y="331.40" width="175.90" height="89.70"/></clipPath>
<g clip-path="url(#c2)" fill="none" stroke="none">
<polyline points="40.2,379.5 42.0,372.5 43.3,375.4 44.7,373.2 44.9,370.1 46.0,373.8 47.8,373.5 49.2,379.5 49.5,378.7 51.4,374.0 52.1,370.9 54.2,371.4 54.6,368.1 55.5,375.2 57.5,375.5 58.1,372.7 59.4,376.2 60.2,376.5 61.7,379.9 62.6,372.8 63.9,380.0 65.5,374.5 66.3,381.2 67.9,372.4 69.4,379.9 70.2,373.3 70.7,381.8 73.0,377.8 73.3,372.1 74.7,379.1 76.0,376.0 77.3,377.9 78.2,384.4 79.5,375.2 80.9,374.7 81.9,380.1 82.8,374.2 84.2,379.0 85.3,379.8 86.4,376.2 87.9,378.6 89.0,368.2 90.1,381.7 91.6,373.7 92.9,372.8 93.9,383.2 94.7,382.3 96.6,374.3 96.8,377.9 98.8,374.9 99.5,372.2 100.7,377.6 102.4,380.0 103.4,385.2 104.9,375.5 106.0,379.5 106.3,375.1 107.9,375.4 109.4,381.1 109.8,370.2 111.5,372.4 113.2,373.3 113.5,380.4 114.5,377.7 115.9,378.2 117.2,377.7 118.3,380.2 119.6,374.7 121.3,375.4 122.1,375.0 123.3,378.0 124.0,371.7 125.1,375.6 127.3,385.2 127.8,378.5 129.7,376.5 130.1,372.9 131.7,377.3 132.9,377.1 133.4,378.6 134.5,373.9 136.2,377.8 137.0,378.4 138.3,378.9 139.4,374.3 140.7,378.1 142.1,382.1 143.1,374.1 144.3,378.7 145.7,375.0 147.1,374.9 147.5,372.0 149.8,372.6 150.3,378.3 152.1,376.8 152.2,380.8 153.4,370.4 154.6,374.7 156.8,371.4 157.4,377.4 159.1,383.4 160.1,370.9 160.5,375.9 162.0,375.8 163.2,376.1 164.5,374.0 166.0,374.4 166.4,381.8 168.6,372.4 169.3,378.1 170.3,377.9 171.9,370.2 172.6,373.0 174.2,377.4 175.1,382.8 176.3,375.7 177.2,374.4 178.4,376.5 180.3,380.6 181.2,379.0 182.2,380.7 183.8,375.5 185.1,373.4 185.4,372.6 187.6,378.8 187.6,375.4 189.5,374.3 190.3,378.0 191.4,376.8 192.9,368.8 194.2,375.5 195.2,373.1 196.7,377.8 198.1,376.1 198.4,382.3 199.7,376.3 201.3,372.1 202.2,368.9 203.3,372.0 204.7,373.8 206.1,376.1 207.5,378.4 208.8,376.8 209.8,374.1 210.4,379.0 212.2,373.0 213.2,379.7 213.8,382.5 215.9,379.8 216.2,382.1" marker-start="url(#m0)" marker-mid="url(#m0)" marker-end="url(#m0)"/>
<polyline points="40.7,375.6 41.3,373.6 42.4,372.5 44.6,379.7 45.0,371.8 46.0,377.9 47.9,379.9 49.1,376.8 50.5,381.4 51.2,376.2 52.2,375.2 53.4,377.0 54.4,374.4 56.1,377.4 57.6,376.2 57.8,381.3 59.4,376.1 60.5,379.2 61.4,377.8 63.1,376.6 64.8,375.6 65.1,382.0 66.8,381.7 68.2,377.3 68.7,374.6 70.6,375.0 71.6,373.1 72.6,371.7 73.3,374.5 74.6,376.3 75.5,379.9 77.7,379.6 78.7,377.9 79.1,375.3 80.8,375.5 81.6,376.2 83.4,376.8 84.4,374.0 86.0,375.5 86.9,375.2 87.4,375.2 88.9,378.2 90.3,379.9 91.8,374.5 92.4,374.8 93.4,377.0 94.7,377.7 95.8,368.2 96.9,378.9 98.3,377.0 99.3,375.3 100.8,380.3 102.5,375.8 103.7,369.9 103.9,373.0 105.6,374.0 106.9,374.2 107.5,375.9 109.1,372.9 109.9,376.8 111.3,377.7 112.4,375.9 114.2,373.1 114.7,375.1 116.2,373.9 117.4,383.4 118.3,372.1 120.2,368.0 120.7,371.6 121.9,377.4 123.5,379.2 124.4,375.3 125.9,379.7 126.4,373.7 127.5,378.1 129.4,372.9 130.2,371.5 131.9,383.4 132.4,375.2 133.6,378.7 135.5,381.2 136.1,378.4 136.9,377.0 138.3,372.6 140.1,381.6 140.7,372.6 142.2,369.2 143.7,374.2 144.6,374.3 146.0,376.3 147.4,380.4 147.8,374.4 149.7,374.9 150.4,373.7 151.2,367.3 152.3,373.7 153.7,374.8 154.7,370.8 156.6,381.0 157.5,380.3 158.1,377.6 160.3,378.6 161.1,373.8 162.1,377.4 163.0,370.1 164.5,370.9 166.2,373.5 167.0,377.6 168.1,374.1 169.4,373.4 170.5,380.0 171.8,375.0 172.5,373.8 173.6,375.5 174.6,370.7 176.8,372.0 177.0,379.2 178.4,375.8 180.0,379.2 181.1,374.2 182.7,379.3 183.1,373.0 184.2,374.9 185.4,372.8 187.0,376.8 187.9,381.4 189.3,370.0 190.7,376.9 191.5,371.4 193.1,374.7 193.5,373.9 195.3,369.8 196.9,375.1 198.1,371.3 198.9,381.5 200.5,373.2 200.8,377.1 202.1,376.7 203.5,376.2 204.7,375.0 206.2,370.4 207.0,382.8 207.7,376.1 209.7,378.8 210.3,372.2 212.2,377.7 212.6,374.6 213.9,377.6 214.9,373.9 216.3,372.7" marker-start="url(#m1)" marker-mid="url(#m1)" marker-end="url(#m1)"/>
<polyline points="40.5,377.0 41.2,373.5 42.9,375.7 44.6,374.5 44.8,373.7 47.0,376.6 47.7,377.4 48.5,375.3 50.6,377.9 51.2,375.0 52.3,372.5 53.4,373.4 55.2,377.7 55.5,380.9 56.8,376.6 58.1,376.9 59.0,372.5 61.1,377.8 61.8,377.1 63.1,373.8 64.7,378.1 65.4,377.0 66.3,370.4 67.8,371.2 68.9,374.2 69.9,375.5 71.0,379.8 72.3,374.5 73.9,376.2 74.4,375.6 76.6,378.2 76.9,376.5 78.1,377.1 79.1,375.3 80.6,371.4 81.8,375.1 83.3,382.2 84.7,379.8 85.2,382.0 87.0,379.2 87.6,374.5 88.9,375.0 89.7,378.5 91.8,375.5 92.4,379.1 94.0,381.4 94.3,381.3 96.3,379.4 96.9,371.4 98.4,381.1 99.8,372.1 100.4,371.8 102.0,377.1 103.6,376.6 104.0,378.6 105.5,376.5 106.3,374.1 107.5,376.4 109.1,372.9 110.2,372.3 111.6,375.2 113.0,375.3 114.0,376.6 114.8,375.2 116.1,380.3 117.5,375.0 118.9,375.7 119.9,379.5 120.9,368.9 121.6,379.8 123.7,379.5 124.2,375.5 125.5,383.2 127.2,379.2 127.6,381.8 129.6,379.8 130.0,376.9 131.0,375.3 132.7,372.6 134.2,373.6 134.9,372.3 136.6,374.4 137.3,378.1 139.0,372.5 139.3,378.2 140.7,378.6 141.7,371.1 143.6,373.7 144.5,375.7 145.9,373.8 146.5,373.4 148.3,381.2 149.8,376.8 149.9,380.6 151.4,376.0 153.2,378.8 154.3,371.7 155.5,374.6 156.0,379.3 157.5,376.5 158.2,380.7 159.8,376.3 161.1,374.5 161.9,375.5 163.3,383.2 164.4,377.6 165.2,374.7 166.4,375.4 168.4,372.4 168.7,381.0 171.0,374.6 172.1,378.7 173.4,375.8 174.3,375.0 174.6,374.0 175.9,378.5 177.3,375.8 178.3,380.6 179.4,381.4 181.6,374.5 182.7,376.6 183.8,382.1 184.3,379.4 186.2,376.4 187.4,371.0 188.0,372.8 188.9,373.7 190.1,382.7 191.6,376.8 193.3,374.8 193.6,375.1 195.2,375.0 196.3,377.3 198.1,370.3 198.4,371.3 200.2,376.8 200.9,379.9 202.5,369.2 203.9,378.4 205.1,372.3 206.3,369.7 206.8,379.8 208.0,375.4 209.0,377.7 210.3,374.6 211.3,375.3 213.3,369.6 213.6,374.4 215.0,376.5 216.8,372.5" marker-start="url(#m2)" marker-mid="url(#m2)" marker-end="url(#m2)"/>
<polyline points="40.6,378.2 42.0,380.3 42.8,373.3 44.2,377.9 45.6,375.6 46.4,383.6 47.7,372.3 49.3,375.0 50.5,374.5 51.0,372.1 51.9,377.1 54.0,377.0 54.7,373.9 56.5,374.9 57.4,377.3 58.2,376.3 59.9,378.2 60.7,373.9 62.1,373.1 63.5,376.4 64.3,369.8 65.9,381.8 66.5,377.2 67.6,370.4 69.1,377.9 70.0,382.1 71.5,371.5 72.5,374.5 73.9,380.6 75.2,373.7 76.1,380.0 77.7,381.1 78.7,377.0 80.0,378.1 80.2,380.3 81.4,377.7 83.3,380.0 84.1,376.2 85.9,376.5 86.5,373.8 88.1,378.0 88.7,381.1 90.3,381.1 91.8,377.3 93.0,371.0 93.6,373.4 94.9,378.7 96.1,373.1 97.1,380.5 98.4,372.8 100.2,377.8 101.3,373.7 101.8,374.2 103.4,377.4 104.9,375.3 105.4,380.2 107.1,376.7 108.2,372.6 109.5,367.3 109.8,373.9 111.9,376.1 113.2,380.0 113.5,372.7 115.1,382.2 115.7,379.2 117.5,375.2 118.8,380.7 120.0,371.0 121.3,372.6 121.8,378.4 122.8,378.4 124.8,381.1 125.0,381.3 126.5,374.9 127.7,374.2 129.5,375.2 130.3,375.5 131.9,378.4 132.9,375.1 134.3,381.6 135.4,376.4 136.7,371.2 137.1,371.7 138.4,378.0 139.9,377.6 141.0,371.6 142.5,370.1 143.7,381.7 144.3,377.9 145.2,375.6 147.1,372.1 148.2,379.4 148.9,374.1 149.9,377.5 151.0,368.0 152.5,374.9 153.7,376.9 154.8,377.6 155.8,372.7 157.1,374.0 158.5,380.2 159.4,375.6 160.7,381.1 162.1,379.1 163.8,381.0 165.0,381.1 165.6,378.8 166.5,379.9 167.8,374.5 169.5,373.6 170.4,377.3 171.7,380.4 173.1,373.6 174.2,383.5 175.6,383.2 175.9,373.8 177.3,374.1 178.2,373.0 179.9,377.2 181.2,380.9 182.0,378.2 182.9,374.4 184.6,379.1 185.4,378.9 186.6,381.3 188.0,380.5 189.9,373.4 190.4,374.8 192.0,380.5 192.7,380.2 194.0,378.4 194.8,374.5 196.1,380.5 197.9,377.0 198.7,384.0 199.7,380.8 201.7,374.9 202.8,373.2 203.2,380.5 204.6,379.1 206.0,373.6 206.7,377.8 208.2,378.3 209.2,374.6 211.0,375.7 211.3,372.5 213.5,373.6 213.8,378.4 215.1,376.8 216.0,376.6" marker-start="url(#m3)" marker-mid="url(#m3)" marker-end="url(#m3)"/>
<polyline points="40.9,373.6 41.9,385.2 43.0,379.4 44.1,379.0 45.8,377.1 46.3,375.6 48.2,373.0 48.5,374.1 50.3,376.7 51.7,376.2 52.0,370.1 53.9,378.4 54.5,375.2 55.4,370.8 57.0,375.0 58.5,383.4 59.2,374.9 61.2,377.6 61.3,376.6 62.8,372.6 64.0,374.6 65.2,377.2 66.3,373.1 67.2,374.7 68.6,375.9 69.8,375.2 71.5,375.4 72.3,377.4 73.9,377.9 74.8,376.2 75.8,379.6 76.8,380.7 78.1,371.7 80.0,377.1 80.7,376.3 81.7,376.7 82.8,376.2 84.7,376.2 85.7,376.0 86.9,379.1 88.2,373.0 88.7,378.7 90.5,372.6 90.9,383.0 92.7,380.0 93.5,372.8 95.1,376.8 95.8,378.6 97.1,374.9 98.6,379.9 100.1,376.0 100.6,384.0 101.6,377.8 102.7,378.5 104.5,374.4 106.0,373.2 106.1,379.3 107.7,370.6 108.7,378.3 110.8,383.5 111.0,384.6 112.1,370.8 114.1,376.6 115.6,378.5 116.5,378.9 116.9,380.1 118.4,371.5 119.7,376.5 121.3,370.0 122.4,376.9 122.7,384.5 124.4,373.3 125.9,377.5 126.8,377.1 128.2,370.7 129.7,377.2 130.9,372.2 131.9,376.3 132.8,378.9 133.6,374.5 134.6,378.4 135.8,371.9 137.6,372.9 138.9,376.0 140.2,374.1 141.4,374.3 141.9,377.2 143.1,373.1 144.1,377.0 145.7,374.1 147.4,379.6 148.3,375.9 149.1,374.8 150.0,379.0 152.0,377.7 153.2,378.1 154.2,373.7 154.9,378.8 156.2,374.7 157.6,370.9 159.1,375.0 159.5,381.9 160.9,375.8 161.7,372.6 162.8,377.2 164.3,372.3 166.1,374.1 167.1,374.7 168.1,377.1 169.2,378.0 170.2,377.1 172.0,376.0 172.8,374.4 173.5,374.7 175.3,377.3 176.9,376.0 177.0,374.9 179.3,381.9 179.4,378.9 180.9,379.0 182.8,376.9 184.0,377.2 184.3,377.1 186.1,379.3 187.1,373.8 188.0,375.2 189.7,382.0 190.7,376.2 191.4,380.2 192.9,370.2 194.3,377.8 195.4,377.6 196.5,375.9 197.9,376.9 198.4,376.4 199.4,370.8 200.6,375.4 202.5,373.3 203.4,372.2 205.1,379.6 206.4,370.3 206.6,373.8 208.1,372.8 209.3,379.2 210.7,373.3 212.3,374.7 213.1,378.1 213.9,368.2 215.5,374.2 216.3,377.0" marker-start="url(#m4)" marker-mid="url(#m4)" marker-end="url(#m4)"/>
<polyline points="40.8,372.8 41.3,377.6 43.4,380.1 43.6,375.0 45.0,383.5 46.3,375.7 47.2,372.2 49.4,375.2 50.6,373.5 51.7,374.5 52.1,373.7 54.0,375.7 54.6,379.2 55.7,377.0 57.4,376.5 57.8,371.8 58.9,370.5 61.2,374.8 61.7,378.9 63.4,378.8 64.1,376.9 64.9,371.4 66.5,375.1 67.4,376.4 68.4,378.9 69.5,373.1 71.2,375.2 72.2,376.4 73.5,375.9 75.4,370.3 76.4,376.8 77.4,370.3 78.1,371.9 79.9,376.1 81.0,373.1 82.0,376.7 82.8,379.2 83.9,377.2 85.4,379.4 86.4,374.5 88.3,376.2 89.0,374.3 90.4,373.3 91.8,385.2 92.7,375.2 93.3,382.6 94.7,375.7 96.6,379.3 96.7,375.9 98.1,371.5 99.8,382.2 101.2,375.6 102.4,376.5 103.4,382.9 104.6,374.0 105.4,376.1 106.2,378.0 108.0,378.8 108.6,367.3 110.6,377.6 111.0,382.6 112.1,379.5 114.4,377.5 114.6,377.6 116.3,376.5 116.8,379.9 119.1,374.3 119.1,377.9 121.1,381.0 122.5,379.1 123.0,377.6 123.8,373.3 125.1,374.5 126.3,377.4 128.3,376.2 129.2,375.5 130.8,369.1 131.7,378.4 132.8,374.6 133.5,373.7 134.7,379.6 136.8,375.6 137.9,375.7 138.5,377.9 140.1,374.3 141.2,372.6 141.9,372.3 143.0,376.9 144.8,375.6 146.2,368.0 147.4,380.1 147.9,375.5 148.7,373.1 150.2,375.7 151.1,373.9 153.3,375.6 153.7,373.6 155.5,371.7 156.0,377.0 158.0,375.6 158.6,376.4 160.2,377.7 161.1,376.3 162.5,380.2 162.9,373.6 164.1,370.3 165.6,370.3 167.4,371.8 168.6,379.6 169.5,370.9 170.6,378.8 171.1,376.4 173.3,369.8 174.2,380.0 175.3,373.3 176.8,375.3 177.2,376.8 178.9,379.3 180.1,374.8 181.4,377.9 181.8,372.6 183.7,371.9 185.1,381.1 186.0,378.0 186.6,377.4 188.7,380.4 188.9,380.2 190.2,375.9 192.1,377.0 193.0,382.1 193.9,378.1 195.6,374.4 196.6,380.5 197.2,379.5 198.5,370.7 200.3,371.6 201.5,381.9 201.8,381.0 203.5,374.9 204.9,380.4 205.7,377.1 206.5,377.8 208.1,374.3 209.9,385.1 210.9,384.0 211.4,380.6 213.4,372.7 214.3,376.8 215.1,382.3 216.2,374.5" marker-start="url(#m5)" marker-mid="url(#m5)" marker-end="url(#m5)"/>
</g>
<rect x="40.60" y="331.40" width="175.90" height="89.70" fill="none" stroke="#7a7a7a" stroke-width="1.2"/>
<path d="M40.60,353.82h4M40.60,376.25h4M40.60,398.68h4M84.58,421.10v-4M128.55,421.10v-4M172.53,421.10v-4" stroke="#7a7a7a" stroke-width="1.1" fill="none"/>
<text x="35.97" y="336.10" font-size="14" text-anchor="end">60</text>
<text x="35.97" y="358.52" font-size="14" text-anchor="end">30</text>
<text x="35.97" y="380.95" font-size="14" text-anchor="end">0</text>
<text x="35.97" y="403.38" font-size="14" text-anchor="end">-30</text>
<text x="35.97" y="425.80" font-size="14" text-anchor="end">-60</text>
<text x="40.60" y="436.70" font-size="14" text-anchor="middle">0</text>
<text x="84.58" y="436.70" font-size="14" text-anchor="middle">3</text>
<text x="128.55" y="436.70" font-size="14" text-anchor="middle">6</text>
<text x="172.53" y="436.70" font-size="14" text-anchor="middle">9</text>
<text x="216.50" y="436.70" font-size="14" text-anchor="middle">12</text>
<text x="128.55" y="450.80" font-size="14" text-anchor="middle">Time (s)</text>
<text x="3.10" y="380.65" font-size="13.5">&#916;</text><text x="10.00" y="380.65" font-size="14" font-style="italic">x</text><text x="18.00" y="383.65" font-size="10">ij</text>
<clipPath id="b2"><rect x="278.60" y="331.40" width="136.60" height="89.70"/></clipPath>
<g clip-path="url(#b2)" fill="#FFCCE6" stroke="#A8909C" stroke-width="1">
<rect x="283.08" y="412.22" width="13.8" height="8.88"/>
<rect x="305.85" y="413.12" width="13.8" height="7.98"/>
<rect x="328.62" y="413.74" width="13.8" height="7.36"/>
<rect x="351.38" y="414.01" width="13.8" height="7.09"/>
<rect x="374.15" y="415.00" width="13.8" height="6.10"/>
<rect x="396.92" y="413.34" width="13.8" height="7.76"/>
</g>
<path d="M278.60,407.50H415.20" stroke="#FA0A0A" stroke-width="2.5"/>
<rect x="278.60" y="331.40" width="136.60" height="89.70" fill="none" stroke="#7a7a7a" stroke-width="1.2"/>
<path d="M278.60,353.82h4M278.60,376.25h4M278.60,398.67h4" stroke="#7a7a7a" stroke-width="1.1" fill="none"/>
<text x="273.6" y="336.10" font-size="14" text-anchor="end">200</text>
<text x="273.6" y="358.52" font-size="14" text-anchor="end">150</text>
<text x="273.6" y="380.95" font-size="14" text-anchor="end">100</text>
<text x="273.6" y="403.37" font-size="14" text-anchor="end">50</text>
<text x="273.6" y="425.80" font-size="14" text-anchor="end">0</text>
<circle cx="287.80" cy="436.40" r="3.65" fill="none" stroke="#333" stroke-width="1.1"/>
<text x="287.80" y="438.50" font-size="6.3" text-anchor="middle" style="fill:#3a3a3a;stroke:none">1</text>
<circle cx="310.66" cy="436.40" r="3.65" fill="none" stroke="#333" stroke-width="1.1"/>
<text x="310.66" y="438.50" font-size="6.3" text-anchor="middle" style="fill:#3a3a3a;stroke:none">2</text>
<circle cx="333.52" cy="436.40" r="3.65" fill="none" stroke="#333" stroke-width="1.1"/>
<text x="333.52" y="438.50" font-size="6.3" text-anchor="middle" style="fill:#3a3a3a;stroke:none">3</text>
<circle cx="356.38" cy="436.40" r="3.65" fill="none" stroke="#333" stroke-width="1.1"/>
<text x="356.38" y="438.50" font-size="6.3" text-anchor="middle" style="fill:#3a3a3a;stroke:none">4</text>
<circle cx="379.24" cy="436.40" r="3.65" fill="none" stroke="#333" stroke-width="1.1"/>
<text x="379.24" y="438.50" font-size="6.3" text-anchor="middle" style="fill:#3a3a3a;stroke:none">5</text>
<circle cx="402.10" cy="436.40" r="3.65" fill="none" stroke="#333" stroke-width="1.1"/>
<text x="402.10" y="438.50" font-size="6.3" text-anchor="middle" style="fill:#3a3a3a;stroke:none">6</text>
<text x="346.90" y="455.60" font-size="13.5" text-anchor="middle">Number</text>
<text x="229" y="380.85" font-size="13.5" textLength="14" lengthAdjust="spacingAndGlyphs">&#916;T</text><text x="245.3" y="383.85" font-size="10">ij</text>
<clipPath id="c3"><rect x="40.60" y="468.60" width="175.90" height="89.70"/></clipPath>
<g clip-path="url(#c3)" fill="none" stroke="none">
<polyline points="41.1,491.8 42.1,485.7 42.8,486.0 44.5,491.4 45.9,491.6 46.1,501.7 47.9,496.1 48.3,488.1 50.2,502.2 50.7,498.2 52.6,496.7 53.0,496.0 54.7,493.4 56.4,506.6 56.9,500.6 58.9,499.1 59.5,507.1 60.3,503.2 62.4,497.8 62.6,500.0 64.3,503.8 65.9,515.6 67.1,507.8 67.8,506.4 68.6,509.3 70.1,509.4 71.1,500.7 72.3,511.1 73.4,514.4 74.5,510.7 75.5,513.1 77.5,514.1 77.8,513.5 79.6,511.4 80.6,513.7 82.1,519.5 83.2,516.2 84.3,514.5 85.8,518.5 86.7,513.2 88.3,515.1 89.1,521.7 90.6,517.6 91.8,512.2 92.8,514.1 93.5,520.0 94.9,517.1 95.6,522.9 97.5,526.2 98.6,519.5 100.0,521.0 100.3,520.1 101.6,522.3 103.3,521.6 104.6,524.8 105.0,521.4 106.2,520.4 107.7,523.9 108.9,521.1 109.7,530.3 111.0,527.1 112.3,519.5 113.2,518.5 114.6,524.0 115.6,525.4 117.2,529.7 118.8,524.1 119.9,522.8 121.0,530.8 122.0,523.7 122.9,524.0 123.9,524.2 125.2,529.8 127.3,524.0 128.3,531.2 129.2,520.7 130.5,525.4 131.8,530.0 133.1,521.1 133.6,521.8 135.4,528.0 136.4,517.9 137.1,529.2 138.3,524.4 139.4,521.3 141.0,533.2 142.7,521.5 143.6,525.2 144.1,524.9 145.2,528.5 146.6,523.3 147.6,528.2 148.8,527.5 150.7,525.3 151.4,527.9 152.8,517.7 153.7,527.7 155.7,525.2 156.4,523.5 157.1,522.2 159.0,518.9 159.6,518.6 161.0,522.1 161.9,522.1 163.4,520.2 164.3,517.1 165.5,517.1 166.5,521.0 168.6,525.7 168.9,510.8 170.2,514.5 171.5,516.4 172.4,515.8 173.7,518.2 175.1,519.3 176.5,516.4 177.6,515.5 178.6,516.4 180.1,518.6 181.4,513.9 182.0,510.5 183.1,513.7 184.8,511.0 185.7,517.8 187.4,510.4 187.6,510.0 189.4,512.8 190.4,514.0 191.4,505.9 193.3,509.0 193.7,504.2 195.6,506.2 196.8,501.7 198.2,504.2 198.3,508.2 199.6,502.4 200.7,502.5 202.1,498.0 204.0,500.6 204.9,499.8 205.5,494.9 206.6,493.0 208.5,493.0 209.6,491.2 210.0,492.9 211.9,490.3 212.6,489.4 213.9,490.0 214.9,490.4 217.1,488.3" marker-start="url(#m0)" marker-mid="url(#m0)" marker-end="url(#m0)"/>
<polyline points="40.4,486.1 42.1,490.9 43.4,495.1 43.9,495.4 44.7,483.5 46.5,494.9 47.4,493.8 49.3,497.5 49.7,495.0 51.5,497.7 51.8,498.5 53.3,502.4 54.4,503.9 56.4,503.0 57.2,499.9 58.5,494.5 59.0,498.5 60.4,496.7 62.3,502.6 63.2,505.2 64.5,510.4 65.4,506.3 66.2,514.3 68.2,509.0 68.7,502.5 69.7,507.7 71.5,505.9 72.0,511.4 74.0,516.0 75.1,513.4 75.9,513.6 77.2,508.6 78.4,506.5 79.1,516.3 80.2,515.6 81.7,515.5 82.5,516.6 83.9,520.3 85.3,516.2 86.8,515.9 87.8,516.2 88.6,522.1 90.5,519.0 91.7,525.2 92.7,516.2 93.9,523.4 94.6,521.0 96.5,522.3 97.4,523.0 98.1,524.9 99.8,527.9 101.0,515.9 102.1,521.4 103.1,521.6 104.7,515.5 105.8,523.5 106.8,521.5 107.4,523.5 108.8,519.6 110.8,522.4 111.3,523.2 112.8,525.4 113.4,523.6 115.1,520.8 116.3,532.3 117.6,525.6 119.1,526.8 119.6,526.4 120.7,532.4 121.7,523.0 123.0,528.6 124.4,526.5 126.1,527.5 126.8,531.6 128.2,527.4 129.4,532.3 129.8,529.1 131.2,526.9 132.7,525.8 133.3,525.5 134.6,526.2 136.5,518.0 137.6,523.9 138.2,529.7 139.3,527.5 141.3,527.4 142.1,525.6 143.1,527.0 144.7,527.7 145.9,518.7 147.4,524.1 147.6,525.4 149.5,524.7 150.3,524.4 151.3,518.6 152.7,521.5 153.4,519.1 154.7,531.8 155.8,521.3 157.7,518.2 158.9,514.6 159.5,521.3 160.8,527.0 162.5,518.4 163.2,522.3 164.4,526.1 166.3,521.4 167.0,515.2 168.1,514.3 169.4,515.5 169.9,521.5 171.5,508.3 173.2,520.6 174.2,516.3 175.6,520.5 176.1,510.6 177.5,513.0 178.4,511.0 179.5,513.3 180.6,513.3 181.9,511.8 183.1,518.5 184.6,507.6 185.7,507.2 187.3,510.9 188.5,508.9 189.4,507.3 190.7,502.1 191.7,505.5 192.7,506.3 194.1,507.3 195.4,510.0 197.0,505.8 198.0,502.8 198.3,503.7 200.1,501.3 200.7,498.6 202.5,498.4 203.9,498.0 204.9,495.9 205.4,497.2 207.0,496.8 207.9,494.3 209.6,500.7 210.8,489.3 212.1,497.3 212.8,489.2 214.3,490.9 215.0,486.5 217.0,488.6" marker-start="url(#m1)" marker-mid="url(#m1)" marker-end="url(#m1)"/>
<polyline points="40.7,492.2 41.5,486.3 42.4,492.4 44.4,484.8 45.6,491.5 46.8,495.8 47.8,495.5 49.0,498.6 50.3,494.3 51.3,491.2 52.6,498.2 53.3,494.7 54.8,502.3 56.1,498.9 57.2,492.6 58.0,506.2 59.1,497.6 60.9,499.0 61.4,510.1 63.4,509.8 63.8,508.5 65.7,502.9 66.4,508.2 68.2,508.3 68.6,505.5 69.7,508.2 71.5,508.8 72.8,511.5 73.5,506.8 74.8,514.1 76.2,506.3 77.0,513.7 78.2,516.0 79.6,511.6 80.5,512.7 81.5,521.7 83.6,514.9 83.8,520.5 86.0,519.6 87.0,514.3 87.8,520.4 89.4,516.8 89.7,519.5 91.4,512.0 92.4,519.5 93.5,523.7 95.4,524.0 95.5,523.4 97.7,520.4 98.0,521.0 99.8,518.1 100.6,521.1 102.0,521.7 103.7,521.4 104.7,523.2 105.1,521.9 106.5,520.5 107.9,520.7 109.3,525.7 109.7,530.1 111.9,527.1 113.0,523.4 114.3,533.4 114.6,526.3 115.8,523.3 117.7,527.0 118.5,529.1 119.4,519.1 120.3,520.5 121.7,526.3 123.4,520.9 124.7,521.1 125.4,529.6 127.3,516.9 128.0,529.0 129.2,526.6 130.2,529.6 131.4,525.4 132.5,530.3 134.2,525.6 135.0,521.8 135.9,524.8 137.3,526.3 139.1,519.8 139.9,528.3 140.5,521.7 142.0,526.0 143.3,524.0 143.9,524.6 146.2,523.9 147.3,524.4 147.6,526.9 149.3,525.8 150.2,522.1 151.2,523.8 152.5,527.2 153.4,525.4 155.3,524.9 156.1,522.5 157.7,521.2 159.0,521.2 159.9,523.5 160.8,520.9 161.8,525.5 163.6,529.2 164.8,519.9 166.1,525.1 166.5,522.4 167.6,522.9 169.7,515.7 170.6,521.8 171.2,516.4 173.1,518.3 173.5,520.7 175.3,521.1 176.4,513.5 177.8,513.1 178.2,511.5 180.4,506.8 181.6,511.7 182.8,511.0 183.8,512.0 184.4,510.8 186.4,511.4 187.1,512.9 188.4,502.0 189.5,514.9 190.2,507.1 192.1,505.3 193.1,505.7 193.7,509.2 195.1,505.7 196.0,506.0 197.5,507.2 199.4,502.4 199.8,503.3 201.0,503.0 202.7,497.5 203.0,503.4 204.2,497.3 206.2,499.6 206.6,495.6 208.4,495.5 209.8,493.8 210.7,497.4 211.3,496.2 212.6,495.5 214.2,490.6 215.9,487.2 216.7,485.3" marker-start="url(#m2)" marker-mid="url(#m2)" marker-end="url(#m2)"/>
<polyline points="40.8,492.0 41.9,494.1 42.7,489.2 44.1,494.1 45.1,489.9 46.9,494.5 47.5,490.2 49.0,496.5 50.5,498.6 50.9,503.5 52.9,502.0 53.6,496.1 54.9,490.4 55.7,504.5 57.4,504.9 58.6,500.9 59.6,501.1 61.1,506.2 61.8,504.0 62.5,510.3 64.7,507.1 65.5,503.4 66.7,501.6 67.9,508.6 68.4,509.2 69.9,507.6 70.8,505.8 72.7,509.0 74.1,514.1 75.0,510.7 76.4,509.3 77.0,515.5 77.8,518.1 79.5,512.4 80.3,513.3 81.7,511.9 82.8,515.4 83.9,518.5 85.7,518.5 86.8,521.0 88.2,521.3 89.6,520.5 89.9,520.4 91.9,515.5 92.9,524.0 93.8,520.2 95.5,522.7 96.1,515.6 96.7,520.1 98.0,522.7 99.4,519.0 101.0,522.0 102.1,524.2 103.4,517.5 103.8,520.5 105.2,517.3 106.8,519.6 108.1,521.2 109.0,523.7 109.9,528.1 111.2,522.1 112.9,524.6 114.0,522.6 114.7,525.1 116.7,527.7 116.8,528.9 118.2,523.1 119.6,521.1 121.2,526.8 122.1,524.3 123.4,521.1 124.9,528.9 125.4,527.2 126.4,529.9 127.9,522.0 129.2,525.2 129.9,527.7 131.0,531.8 132.9,526.6 134.4,522.5 135.5,526.9 136.1,527.3 137.4,523.5 139.0,529.9 140.3,525.3 140.8,523.3 142.7,527.9 143.5,528.0 144.1,524.1 145.6,525.1 146.3,525.5 147.9,523.7 149.2,523.4 150.7,527.1 151.4,526.0 152.9,521.8 154.1,519.2 155.1,518.1 156.4,525.4 157.4,518.4 158.8,519.2 159.8,521.7 161.5,519.3 161.7,518.1 163.8,514.1 164.8,523.6 165.2,517.7 167.2,519.6 167.9,519.6 169.3,514.3 170.5,515.0 171.9,520.8 172.8,517.9 174.2,515.5 174.9,520.9 175.9,512.6 177.7,515.0 179.3,513.4 179.4,512.8 181.6,506.6 182.1,512.4 183.6,513.0 184.4,505.4 186.0,512.3 186.9,511.8 188.5,513.9 189.1,505.0 190.3,507.1 191.9,505.5 192.4,506.2 194.6,505.9 195.4,507.7 197.0,506.7 197.2,502.3 199.0,502.1 199.6,496.5 200.7,504.1 202.3,502.0 203.5,503.0 204.8,493.8 205.8,502.1 206.7,494.5 208.4,490.8 209.1,495.8 210.4,491.8 212.1,500.4 213.2,493.5 214.4,496.9 215.8,489.3 216.9,489.0" marker-start="url(#m3)" marker-mid="url(#m3)" marker-end="url(#m3)"/>
<polyline points="41.0,492.6 41.7,488.6 43.1,493.9 43.9,490.8 45.5,492.8 46.3,494.5 48.0,492.5 48.9,489.6 50.5,498.2 51.3,493.7 52.8,497.6 53.5,498.5 55.0,491.8 55.7,507.5 57.2,503.4 58.5,508.2 59.1,503.4 60.7,504.2 62.3,495.4 62.7,503.5 64.2,499.4 65.8,502.1 66.5,508.6 67.2,505.8 69.0,502.7 70.1,508.5 71.8,509.4 72.7,508.8 74.0,516.5 74.7,514.5 76.5,511.4 77.6,511.2 77.9,516.5 79.7,515.3 81.2,515.3 82.1,515.8 83.7,513.6 84.0,515.8 85.6,516.2 86.7,522.2 87.6,521.3 89.3,517.2 90.1,524.2 91.5,518.2 92.9,521.9 94.0,522.8 94.4,517.9 95.6,522.9 97.6,524.2 98.6,523.8 99.2,521.4 100.4,513.0 102.0,529.8 102.8,522.7 104.9,524.0 105.2,519.9 107.2,525.0 108.1,532.5 109.1,519.4 110.5,528.1 111.7,524.7 112.4,529.4 113.8,528.7 114.5,526.7 115.6,522.1 117.9,522.4 118.9,527.6 120.0,523.8 120.4,526.9 122.2,525.4 123.5,525.3 124.3,523.7 125.5,528.1 127.0,526.5 127.4,525.2 129.1,525.7 130.0,528.8 131.4,520.0 132.7,527.6 133.8,523.3 135.5,525.1 136.7,521.5 137.7,533.3 138.9,518.4 139.8,526.2 140.7,529.7 142.5,524.7 142.9,517.3 144.6,523.1 145.8,529.0 146.4,526.2 147.7,519.7 149.4,529.0 150.8,524.4 151.4,524.7 152.8,515.8 154.2,524.1 155.2,518.2 156.2,524.9 157.6,524.9 158.9,518.3 160.2,519.2 161.1,527.2 162.4,518.5 163.0,518.3 164.2,522.3 166.1,518.7 166.6,518.4 168.0,520.5 169.7,520.2 170.0,520.4 171.8,518.2 172.5,521.7 174.1,516.5 175.6,520.9 176.7,514.9 177.9,514.9 178.7,517.9 180.0,510.7 180.7,506.5 181.8,508.1 183.7,516.5 184.1,507.1 186.3,509.6 186.6,510.4 188.4,511.3 189.3,508.7 190.7,503.0 192.0,505.2 192.7,508.1 194.5,507.9 195.5,506.3 196.5,502.2 197.7,497.0 198.7,506.5 200.5,501.6 201.0,502.6 202.0,503.2 203.6,498.1 205.2,496.4 206.4,502.3 207.1,500.4 208.1,491.9 209.7,493.8 210.7,492.3 212.2,494.7 213.3,493.3 214.4,489.6 215.9,491.6 216.7,493.1" marker-start="url(#m4)" marker-mid="url(#m4)" marker-end="url(#m4)"/>
<polyline points="40.3,482.4 41.8,493.5 42.6,491.8 44.1,493.5 45.5,493.9 46.0,495.7 47.4,495.7 49.3,495.5 49.5,497.0 50.8,494.2 52.8,498.2 53.8,498.7 54.7,494.3 56.4,499.4 56.8,500.3 57.7,501.5 59.9,502.7 60.8,501.6 61.7,506.8 63.1,501.1 63.7,500.0 65.2,502.3 66.7,508.9 68.2,513.6 68.7,509.9 69.6,508.4 70.8,506.8 72.2,511.0 73.8,512.3 75.1,506.7 76.2,514.8 77.6,509.6 78.6,510.6 79.8,518.8 80.8,513.8 82.1,517.3 83.4,519.2 84.8,522.9 85.1,522.1 86.8,516.0 87.4,518.9 88.7,517.2 90.7,522.5 91.3,520.2 92.6,520.5 93.4,525.2 94.9,526.1 95.5,519.1 97.4,520.6 99.0,524.8 99.8,522.2 101.0,519.9 102.1,516.2 103.0,525.8 104.7,521.0 105.4,516.0 106.5,523.3 107.9,518.8 109.6,533.0 110.5,519.4 111.6,524.6 112.2,531.1 114.2,522.3 114.9,521.4 116.3,521.1 117.4,521.2 118.9,525.6 119.1,528.1 120.4,527.2 121.8,525.9 122.9,524.4 124.6,527.6 125.1,525.8 126.3,523.0 128.0,524.9 128.6,518.1 130.7,518.6 131.3,530.0 132.5,527.9 134.0,530.4 135.6,529.8 136.0,523.9 137.1,529.2 138.4,529.2 140.1,526.4 141.5,522.5 141.7,526.5 142.8,526.4 144.3,521.8 145.5,523.1 147.1,522.9 148.2,521.0 149.5,527.5 150.3,523.2 151.5,525.8 153.3,519.7 153.4,520.4 154.6,526.5 155.7,518.0 157.8,526.1 158.7,517.8 160.1,520.7 161.2,524.1 162.6,524.5 163.4,521.5 164.4,520.2 165.3,522.2 166.8,517.3 167.7,523.7 169.8,518.1 170.8,517.7 171.4,523.9 172.8,515.8 174.0,520.8 175.3,524.4 176.9,517.2 177.3,515.7 178.9,511.0 179.9,515.3 181.6,507.7 181.9,507.7 183.6,508.0 184.1,506.9 185.9,509.4 187.5,511.6 188.4,506.9 188.8,505.6 191.1,506.8 191.8,508.1 193.0,511.9 194.6,503.1 195.3,503.8 196.1,509.0 197.5,503.2 199.1,500.0 199.9,502.4 200.8,498.7 202.2,497.8 203.0,504.9 204.2,500.0 205.4,496.4 207.1,493.7 208.0,491.3 209.0,502.0 210.9,494.2 211.9,490.7 213.3,487.7 213.7,485.8 215.5,493.5 216.2,490.9" marker-start="url(#m5)" marker-mid="url(#m5)" marker-end="url(#m5)"/>
</g>
<rect x="40.60" y="468.60" width="175.90" height="89.70" fill="none" stroke="#7a7a7a" stroke-width="1.2"/>
<path d="M40.60,491.03h4M40.60,513.45h4M40.60,535.88h4M84.58,558.30v-4M128.55,558.30v-4M172.53,558.30v-4" stroke="#7a7a7a" stroke-width="1.1" fill="none"/>
<text x="35.97" y="473.30" font-size="14" text-anchor="end">60</text>
<text x="35.97" y="495.73" font-size="14" text-anchor="end">30</text>
<text x="35.97" y="518.15" font-size="14" text-anchor="end">0</text>
<text x="35.97" y="540.58" font-size="14" text-anchor="end">-30</text>
<text x="35.97" y="563.00" font-size="14" text-anchor="end">-60</text>
<text x="40.60" y="573.90" font-size="14" text-anchor="middle">0</text>
<text x="84.58" y="573.90" font-size="14" text-anchor="middle">3</text>
<text x="128.55" y="573.90" font-size="14" text-anchor="middle">6</text>
<text x="172.53" y="573.90" font-size="14" text-anchor="middle">9</text>
<text x="216.50" y="573.90" font-size="14" text-anchor="middle">12</text>
<text x="128.55" y="588.00" font-size="14" text-anchor="middle">Time (s)</text>
<text x="4.30" y="517.85" font-size="13.5" textLength="6.9" lengthAdjust="spacingAndGlyphs">&#931;</text><text x="10.70" y="517.85" font-size="14.5" font-style="italic">x</text><text x="18.80" y="520.85" font-size="10">ij</text>
<clipPath id="b3"><rect x="278.60" y="468.60" width="136.60" height="89.70"/></clipPath>
<g clip-path="url(#b3)" fill="#CCE3FA" stroke="#9AA6B2" stroke-width="1">
<rect x="283.08" y="441.69" width="13.8" height="116.61"/>
<rect x="305.85" y="441.69" width="13.8" height="116.61"/>
<rect x="328.62" y="441.69" width="13.8" height="116.61"/>
<rect x="351.38" y="441.69" width="13.8" height="116.61"/>
<rect x="374.15" y="441.69" width="13.8" height="116.61"/>
<rect x="396.92" y="441.69" width="13.8" height="116.61"/>
</g>
<path d="M278.60,544.30H415.20" stroke="#FA0A0A" stroke-width="2.5"/>
<rect x="278.60" y="468.60" width="136.60" height="89.70" fill="none" stroke="#7a7a7a" stroke-width="1.2"/>
<path d="M278.60,491.03h4M278.60,513.45h4M278.60,535.88h4" stroke="#7a7a7a" stroke-width="1.1" fill="none"/>
<text x="273.6" y="473.30" font-size="14" text-anchor="end">200</text>
<text x="273.6" y="495.73" font-size="14" text-anchor="end">150</text>
<text x="273.6" y="518.15" font-size="14" text-anchor="end">100</text>
<text x="273.6" y="540.58" font-size="14" text-anchor="end">50</text>
<text x="273.6" y="563.00" font-size="14" text-anchor="end">0</text>
<circle cx="287.80" cy="573.60" r="3.65" fill="none" stroke="#333" stroke-width="1.1"/>
<text x="287.80" y="575.70" font-size="6.3" text-anchor="middle" style="fill:#3a3a3a;stroke:none">1</text>
<circle cx="310.66" cy="573.60" r="3.65" fill="none" stroke="#333" stroke-width="1.1"/>
<text x="310.66" y="575.70" font-size="6.3" text-anchor="middle" style="fill:#3a3a3a;stroke:none">2</text>
<circle cx="333.52" cy="573.60" r="3.65" fill="none" stroke="#333" stroke-width="1.1"/>
<text x="333.52" y="575.70" font-size="6.3" text-anchor="middle" style="fill:#3a3a3a;stroke:none">3</text>
<circle cx="356.38" cy="573.60" r="3.65" fill="none" stroke="#333" stroke-width="1.1"/>
<text x="356.38" y="575.70" font-size="6.3" text-anchor="middle" style="fill:#3a3a3a;stroke:none">4</text>
<circle cx="379.24" cy="573.60" r="3.65" fill="none" stroke="#333" stroke-width="1.1"/>
<text x="379.24" y="575.70" font-size="6.3" text-anchor="middle" style="fill:#3a3a3a;stroke:none">5</text>
<circle cx="402.10" cy="573.60" r="3.65" fill="none" stroke="#333" stroke-width="1.1"/>
<text x="402.10" y="575.70" font-size="6.3" text-anchor="middle" style="fill:#3a3a3a;stroke:none">6</text>
<text x="346.90" y="592.80" font-size="13.5" text-anchor="middle">Number</text>
<text x="229" y="518.05" font-size="13.5" textLength="14" lengthAdjust="spacingAndGlyphs">&#931;T</text><text x="245.3" y="521.05" font-size="10">ij</text>
<clipPath id="c4"><rect x="40.60" y="629.00" width="175.90" height="89.70"/></clipPath>
<g clip-path="url(#c4)" fill="none" stroke="none">
<polyline points="41.0,689.5 41.3,686.8 43.5,682.5 44.7,679.8 45.7,680.5 47.0,677.9 47.8,682.1 48.6,680.2 50.2,679.7 51.4,682.1 52.0,676.3 53.9,677.6 54.5,676.2 56.0,680.4 56.9,675.2 58.1,682.0 59.9,676.4 61.0,686.0 61.3,680.8 63.3,674.1 64.7,677.8 65.6,675.4 66.8,681.2 67.5,670.1 69.2,672.9 70.0,674.8 71.8,672.8 72.7,672.8 73.4,668.9 75.3,672.5 76.3,678.1 76.8,673.8 78.0,668.2 79.0,670.4 81.1,673.3 81.4,669.7 82.8,671.1 84.6,669.0 85.2,676.4 86.4,673.8 87.3,668.2 88.5,671.1 90.3,668.7 90.9,663.1 93.1,670.5 93.2,668.6 94.7,671.1 95.7,671.1 97.7,668.9 98.7,673.5 99.2,675.7 100.3,663.6 101.5,668.5 103.4,664.0 104.6,667.3 105.7,667.1 106.7,665.1 107.8,664.9 109.2,671.3 109.8,663.0 111.8,670.3 112.9,666.1 114.0,658.0 114.7,666.4 115.8,660.9 117.9,667.7 119.0,664.3 120.0,666.2 121.2,664.9 122.0,669.2 123.7,669.4 124.6,665.0 125.5,671.5 127.0,669.0 127.5,663.9 129.0,668.2 130.7,669.2 131.5,669.9 132.7,665.6 133.9,667.4 135.6,665.7 135.9,666.8 137.6,659.9 138.5,667.8 139.5,673.1 140.4,666.0 142.3,666.5 142.9,666.0 144.6,672.2 145.6,662.8 146.7,666.9 148.5,667.1 148.7,672.4 150.5,665.5 151.5,667.5 152.3,662.7 153.8,669.0 155.5,672.0 155.9,667.4 157.7,671.2 158.4,666.7 159.9,672.1 161.1,669.0 161.7,669.4 163.7,669.1 164.4,670.9 165.4,672.1 166.6,669.7 168.7,671.9 169.8,669.7 170.4,671.2 171.4,678.2 173.1,671.1 173.5,666.2 175.6,670.4 175.8,669.5 177.0,670.3 178.5,673.8 179.9,677.1 180.5,669.9 182.0,669.5 184.0,671.7 184.9,672.5 185.3,672.7 187.4,674.8 188.1,674.0 189.9,675.4 190.3,674.5 191.5,679.2 193.1,678.6 194.1,674.9 195.0,678.3 196.5,685.9 197.8,677.7 198.6,686.2 200.4,672.6 201.4,677.1 202.6,677.7 203.7,682.6 204.4,684.5 206.1,682.1 206.7,681.5 207.8,684.7 209.4,682.2 210.2,680.8 211.3,681.6 213.1,687.9 214.7,692.4 214.8,685.1 216.4,688.1" marker-start="url(#m0)" marker-mid="url(#m0)" marker-end="url(#m0)"/>
<polyline points="40.6,683.0 41.5,685.9 42.5,679.9 44.0,682.8 45.4,683.1 46.5,681.6 47.1,680.6 48.5,681.3 50.3,681.4 51.3,680.8 52.7,678.2 53.5,683.3 54.5,679.2 56.3,679.0 56.8,680.0 57.8,675.7 59.3,681.8 60.6,678.4 61.5,679.7 63.6,674.5 63.9,677.7 64.9,675.7 66.8,674.0 67.3,680.4 68.7,673.2 70.0,676.8 71.0,674.9 72.7,674.0 73.2,670.8 75.0,670.6 75.6,667.1 77.3,671.9 78.9,673.6 79.9,673.5 81.3,669.3 82.0,666.1 82.7,670.0 84.1,672.7 85.8,669.6 86.2,669.6 88.0,669.9 88.8,672.3 90.7,677.8 91.2,671.2 92.3,665.8 93.5,668.3 95.0,676.0 96.6,668.5 97.3,674.4 98.7,661.6 99.7,667.4 100.3,671.9 102.1,665.1 103.3,670.1 104.5,665.5 105.3,667.2 106.4,671.0 107.7,664.8 108.5,671.3 109.9,662.4 111.2,666.4 112.6,669.9 114.3,672.3 115.2,661.0 116.2,661.5 117.6,670.3 118.5,660.7 119.2,665.5 121.1,666.7 122.3,666.2 123.4,666.8 124.8,661.1 125.9,665.3 127.2,671.8 127.4,658.9 129.7,662.9 130.4,669.3 131.6,666.9 132.8,668.8 133.6,665.6 134.8,664.5 136.7,665.1 137.5,667.9 139.1,668.6 139.4,663.2 141.0,666.4 142.2,658.8 142.8,668.8 144.6,663.7 145.5,666.2 146.8,669.0 147.7,662.1 149.3,666.3 150.6,669.8 152.0,668.0 153.2,663.8 154.5,671.3 155.7,662.9 156.5,665.3 157.2,668.6 158.7,663.4 159.3,662.2 161.1,666.3 162.0,667.8 163.4,662.6 164.8,664.0 165.2,672.0 167.4,670.0 167.6,670.1 169.3,671.1 170.1,674.8 171.1,667.1 172.8,670.2 173.7,670.4 174.7,666.3 176.7,673.3 177.2,671.7 179.2,671.1 180.0,673.7 180.9,672.8 181.7,670.2 183.9,673.3 184.2,669.0 186.1,676.4 187.0,673.6 188.1,679.3 188.9,675.2 190.4,677.6 191.1,671.0 193.2,673.7 194.3,674.9 194.8,670.7 196.4,672.6 197.2,675.2 199.0,680.5 199.6,683.2 200.8,679.0 202.1,680.6 204.1,682.3 205.1,681.6 205.8,686.4 207.4,676.6 208.1,685.6 209.1,684.5 211.1,681.2 211.2,688.6 213.3,681.1 214.7,681.7 214.8,685.9 216.9,689.4" marker-start="url(#m1)" marker-mid="url(#m1)" marker-end="url(#m1)"/>
<polyline points="40.1,683.7 41.3,685.6 42.8,680.2 43.6,680.7 45.5,685.3 46.2,675.8 47.9,685.5 49.4,679.4 50.0,677.0 51.2,675.9 53.0,687.4 53.4,676.1 55.2,674.7 56.2,673.6 56.6,686.3 58.1,680.4 59.7,677.8 60.1,678.9 62.3,671.9 63.5,678.6 64.5,671.6 65.8,673.6 66.7,680.4 68.1,678.4 68.9,676.3 70.0,674.0 71.5,670.4 72.4,674.3 73.4,670.2 74.6,678.7 75.9,681.7 77.1,673.7 78.7,670.5 79.9,673.1 81.1,675.1 82.3,669.8 82.9,664.3 84.1,671.2 85.9,673.0 86.3,673.4 88.1,663.1 89.0,670.0 90.4,667.4 91.6,665.1 92.7,665.4 93.4,672.3 94.3,665.5 96.6,665.5 97.7,666.6 98.5,664.6 99.8,670.0 100.3,668.2 101.9,669.5 103.3,664.8 104.6,669.6 105.2,665.9 106.2,671.0 108.4,667.3 109.5,668.1 109.9,667.2 111.8,666.1 113.0,667.1 113.4,667.2 115.3,673.6 116.0,662.4 117.1,668.4 118.1,667.0 119.8,668.9 121.0,662.5 122.1,669.1 122.8,664.1 124.8,661.7 125.4,660.0 126.5,661.6 128.1,663.6 128.8,670.0 130.8,661.2 131.7,661.6 133.0,662.8 133.7,663.0 135.0,665.5 135.9,667.6 137.1,662.1 138.5,661.5 140.1,669.6 140.9,662.8 142.5,665.3 142.9,663.0 144.2,665.3 145.1,662.4 147.3,662.9 147.5,663.4 149.3,671.5 150.6,663.9 151.2,666.7 153.3,671.0 154.5,664.8 154.8,672.1 155.9,664.3 157.6,661.7 158.7,669.6 160.0,664.8 161.2,666.6 162.7,666.2 163.7,673.3 164.3,666.6 166.0,668.6 166.9,666.6 168.7,669.5 169.3,665.8 169.9,668.8 172.1,667.9 172.6,665.6 174.4,670.1 175.3,667.5 176.6,670.5 177.8,669.8 179.2,673.8 180.3,669.5 181.3,668.2 182.1,673.0 183.4,670.3 184.4,671.8 185.6,677.5 186.9,672.9 188.1,669.9 189.1,676.4 190.3,681.3 191.5,674.8 192.5,678.1 194.2,669.8 194.8,676.8 196.1,677.1 197.2,679.7 199.0,677.3 199.7,680.3 200.7,681.9 202.7,679.8 203.4,682.6 205.1,675.9 205.7,684.8 206.9,681.5 208.3,684.2 208.9,686.8 211.2,677.3 211.3,690.4 213.4,679.1 214.3,689.4 215.6,684.8 216.2,677.5" marker-start="url(#m2)" marker-mid="url(#m2)" marker-end="url(#m2)"/>
<polyline points="41.0,687.1 41.5,692.2 43.5,679.8 43.6,688.1 45.7,683.7 46.5,676.4 48.1,682.8 48.9,679.0 50.4,681.3 51.5,677.8 52.6,679.7 54.1,681.0 54.3,674.6 56.4,679.3 57.2,682.7 58.6,678.9 59.7,675.6 60.5,680.9 61.9,674.0 63.6,673.6 64.2,668.8 65.9,677.6 66.0,673.2 67.8,680.5 69.2,675.9 70.0,673.9 70.8,672.7 72.8,673.7 74.0,673.5 74.7,675.1 75.5,674.3 77.6,671.2 78.7,670.1 79.9,669.5 81.1,668.1 81.6,667.3 83.2,677.0 84.2,672.5 85.3,671.0 86.5,672.4 88.0,666.4 89.6,667.1 90.2,669.9 91.2,668.9 92.7,664.8 93.9,670.0 94.8,669.7 96.3,665.4 97.4,666.7 98.7,663.3 99.2,666.7 101.0,665.2 101.9,669.4 103.6,670.5 104.5,667.3 105.9,676.0 107.1,665.6 107.6,663.6 108.6,666.5 110.6,667.3 110.9,662.9 113.1,666.5 114.0,663.0 114.9,658.9 116.4,663.7 116.9,662.9 118.7,664.3 120.2,665.1 120.3,665.0 122.6,665.6 123.0,662.1 124.3,671.2 126.1,666.6 127.1,663.5 127.8,668.5 129.7,666.0 129.8,668.0 131.7,664.2 132.7,662.8 134.3,660.8 134.5,664.0 136.0,668.2 137.4,665.0 138.1,663.9 139.9,661.2 141.4,673.2 142.6,664.8 142.9,672.2 144.5,663.8 146.2,664.8 146.3,664.7 148.3,663.5 149.0,665.3 150.9,668.9 151.7,665.7 153.2,663.0 153.4,667.5 155.2,667.2 156.2,671.5 157.0,663.6 158.5,669.4 160.1,670.5 161.1,669.6 162.3,671.2 163.1,669.3 164.6,664.4 165.7,666.3 167.4,664.5 168.5,664.5 169.2,672.6 170.5,668.3 171.4,665.0 172.9,662.7 173.6,675.3 175.7,675.8 176.3,669.6 177.0,672.5 178.5,675.1 180.4,671.0 180.9,675.0 182.1,680.3 184.0,673.3 185.0,673.1 185.6,671.6 186.6,670.8 188.0,673.8 189.2,675.6 191.0,677.6 191.8,681.2 193.4,677.6 194.6,673.3 195.7,674.8 196.3,670.3 197.5,678.1 198.8,684.1 200.2,675.8 201.6,675.7 202.7,683.5 203.3,685.2 205.0,680.0 205.7,678.4 207.4,685.2 207.7,682.7 209.8,685.1 210.8,686.9 211.4,687.6 212.7,683.3 213.9,685.6 215.3,687.3 217.0,694.5" marker-start="url(#m3)" marker-mid="url(#m3)" marker-end="url(#m3)"/>
<polyline points="40.1,677.7 42.3,683.1 42.8,688.0 43.9,686.6 44.8,680.4 46.2,678.6 47.5,679.1 49.4,678.2 50.6,680.0 50.7,685.5 52.5,682.3 53.0,685.8 54.3,680.6 56.1,683.3 57.2,678.0 58.8,678.3 60.0,683.9 60.3,674.8 62.0,674.2 63.4,681.0 64.5,675.5 65.5,673.3 66.6,676.3 67.8,672.1 68.8,674.1 70.2,670.7 71.8,673.3 72.3,674.3 73.6,671.7 74.8,670.5 76.4,671.8 76.9,674.1 78.3,674.9 79.9,673.1 80.6,673.6 82.3,670.6 83.1,670.5 83.8,671.2 85.3,670.6 86.2,669.9 87.8,664.8 88.8,665.8 90.0,671.6 91.7,667.9 93.0,670.2 94.0,669.3 95.2,669.6 96.5,670.7 97.8,673.0 98.1,676.6 100.1,667.3 100.4,664.0 101.7,670.8 103.5,665.8 103.9,668.8 106.1,666.3 107.2,669.8 107.3,667.9 109.2,667.3 110.8,674.8 111.5,665.9 112.7,667.0 113.9,674.9 115.0,664.2 116.3,666.4 117.5,665.5 119.1,664.9 119.2,667.5 120.6,669.7 121.5,667.5 122.7,667.4 124.1,658.4 126.1,659.6 126.6,667.5 128.1,667.3 128.9,664.8 130.9,663.9 131.1,668.2 132.6,669.3 133.7,659.3 134.7,662.3 135.7,671.2 137.3,672.0 138.2,668.8 139.2,665.3 141.4,664.3 141.9,667.4 142.7,671.8 144.6,665.7 145.6,664.4 147.1,666.6 147.9,668.4 148.8,664.8 150.6,667.1 151.5,670.9 153.2,666.9 153.7,671.7 154.8,664.1 155.9,666.0 157.2,671.1 158.3,667.2 159.9,663.9 160.9,675.6 162.7,669.1 163.0,663.0 165.1,674.3 165.5,669.7 166.9,674.2 168.6,669.9 169.6,678.1 171.0,675.7 171.7,672.2 172.6,670.1 174.2,669.6 175.4,669.7 175.8,667.3 177.1,669.2 179.2,669.6 180.2,675.7 181.5,673.3 181.9,663.8 184.0,665.7 184.4,670.7 185.4,671.3 186.8,670.9 188.0,676.0 188.8,668.1 190.9,676.8 192.1,676.2 192.5,668.6 194.1,683.8 195.7,675.9 196.3,683.3 197.6,680.1 198.5,678.5 199.9,679.9 200.9,678.5 202.7,682.4 203.1,680.3 204.1,684.4 206.3,682.6 206.7,686.2 208.3,679.8 209.7,687.1 210.4,680.5 212.3,685.2 212.8,685.0 213.8,680.4 214.8,684.6 217.0,692.5" marker-start="url(#m4)" marker-mid="url(#m4)" marker-end="url(#m4)"/>
<polyline points="40.1,686.9 42.0,682.7 42.7,681.7 44.1,683.3 45.5,685.1 46.5,681.3 47.4,676.5 49.3,680.5 49.6,677.9 51.3,681.2 52.0,671.3 54.1,685.2 55.3,677.0 56.2,676.8 57.6,677.3 58.6,681.8 59.7,681.6 61.0,678.0 62.3,676.4 62.7,680.9 64.5,679.8 65.0,673.9 66.5,671.8 67.6,677.1 69.1,677.2 70.3,676.9 71.8,665.3 72.9,672.0 73.1,673.8 74.5,669.7 75.5,664.9 77.4,668.4 78.2,677.3 80.1,672.2 80.4,673.2 82.5,672.5 83.4,675.4 84.6,672.2 85.6,674.5 87.1,669.2 87.5,670.1 89.4,674.9 90.6,675.7 91.5,671.2 92.7,667.0 93.4,667.4 94.9,669.1 96.2,677.5 97.1,670.3 97.9,671.0 100.2,669.3 101.2,672.2 101.8,669.4 103.2,670.0 104.5,658.4 106.1,664.8 106.8,667.9 108.2,667.2 109.4,667.4 109.8,666.2 111.5,668.2 113.1,666.7 114.2,662.9 115.5,663.5 115.8,665.3 117.7,661.6 118.3,665.5 120.1,669.6 121.2,672.3 121.9,668.5 123.3,666.2 124.4,664.6 126.1,662.1 126.8,668.0 127.5,668.8 129.2,663.2 129.8,661.8 131.1,667.6 132.7,664.7 133.8,661.1 134.5,664.8 136.0,666.2 137.2,673.4 138.3,661.4 139.7,663.9 140.4,665.7 141.6,667.9 143.0,670.7 144.7,666.8 146.2,666.9 147.1,662.8 147.5,671.0 149.6,661.8 150.8,666.9 152.0,662.9 153.0,670.7 153.7,666.1 155.1,663.2 156.2,667.3 156.9,672.9 158.7,669.2 159.6,666.2 161.5,673.4 162.4,673.7 163.7,668.0 164.0,672.2 166.0,666.8 167.3,673.6 168.1,676.1 169.0,672.5 170.4,664.9 171.7,673.4 172.7,670.6 173.8,670.0 175.4,674.6 176.8,667.7 177.3,671.0 179.2,670.6 179.4,678.1 181.3,678.9 182.1,681.8 183.5,674.0 184.5,674.4 185.3,671.3 186.6,669.0 188.7,675.8 189.2,676.0 191.1,674.0 191.7,670.5 193.4,679.3 194.0,674.4 195.8,678.1 196.4,678.6 197.3,674.9 198.4,680.9 199.5,682.3 200.7,676.7 202.5,679.8 203.4,681.0 205.1,681.2 205.5,679.2 207.6,683.1 207.9,679.2 209.1,681.0 210.4,677.8 211.5,679.0 212.9,681.0 214.5,685.5 214.8,684.5 216.2,687.7" marker-start="url(#m5)" marker-mid="url(#m5)" marker-end="url(#m5)"/>
</g>
<rect x="40.60" y="629.00" width="175.90" height="89.70" fill="none" stroke="#7a7a7a" stroke-width="1.2"/>
<path d="M40.60,651.43h4M40.60,673.85h4M40.60,696.27h4M84.58,718.70v-4M128.55,718.70v-4M172.53,718.70v-4" stroke="#7a7a7a" stroke-width="1.1" fill="none"/>
<text x="35.97" y="633.70" font-size="14" text-anchor="end">60</text>
<text x="35.97" y="656.13" font-size="14" text-anchor="end">30</text>
<text x="35.97" y="678.55" font-size="14" text-anchor="end">0</text>
<text x="35.97" y="700.98" font-size="14" text-anchor="end">-30</text>
<text x="35.97" y="723.40" font-size="14" text-anchor="end">-60</text>
<text x="40.60" y="734.30" font-size="14" text-anchor="middle">0</text>
<text x="84.58" y="734.30" font-size="14" text-anchor="middle">3</text>
<text x="128.55" y="734.30" font-size="14" text-anchor="middle">6</text>
<text x="172.53" y="734.30" font-size="14" text-anchor="middle">9</text>
<text x="216.50" y="734.30" font-size="14" text-anchor="middle">12</text>
<text x="128.55" y="748.40" font-size="14" text-anchor="middle">Time (s)</text>
<text x="3.10" y="678.25" font-size="13.5">&#916;</text><text x="10.00" y="678.25" font-size="14" font-style="italic">x</text><text x="18.00" y="681.25" font-size="10">ij</text>
<clipPath id="b4"><rect x="278.60" y="629.00" width="136.60" height="89.70"/></clipPath>
<g clip-path="url(#b4)" fill="#FFCCE6" stroke="#A8909C" stroke-width="1">
<rect x="283.08" y="682.10" width="13.8" height="36.60"/>
<rect x="305.85" y="686.32" width="13.8" height="32.38"/>
<rect x="328.62" y="683.13" width="13.8" height="35.57"/>
<rect x="351.38" y="685.02" width="13.8" height="33.68"/>
<rect x="374.15" y="683.72" width="13.8" height="34.98"/>
<rect x="396.92" y="686.09" width="13.8" height="32.61"/>
</g>
<path d="M278.60,705.60H415.20" stroke="#FA0A0A" stroke-width="2.5"/>
<rect x="278.60" y="629.00" width="136.60" height="89.70" fill="none" stroke="#7a7a7a" stroke-width="1.2"/>
<path d="M278.60,651.43h4M278.60,673.85h4M278.60,696.28h4" stroke="#7a7a7a" stroke-width="1.1" fill="none"/>
<text x="273.6" y="633.70" font-size="14" text-anchor="end">200</text>
<text x="273.6" y="656.13" font-size="14" text-anchor="end">150</text>
<text x="273.6" y="678.55" font-size="14" text-anchor="end">100</text>
<text x="273.6" y="700.98" font-size="14" text-anchor="end">50</text>
<text x="273.6" y="723.40" font-size="14" text-anchor="end">0</text>
<circle cx="287.80" cy="734.00" r="3.65" fill="none" stroke="#333" stroke-width="1.1"/>
<text x="287.80" y="736.10" font-size="6.3" text-anchor="middle" style="fill:#3a3a3a;stroke:none">1</text>
<circle cx="310.66" cy="734.00" r="3.65" fill="none" stroke="#333" stroke-width="1.1"/>
<text x="310.66" y="736.10" font-size="6.3" text-anchor="middle" style="fill:#3a3a3a;stroke:none">2</text>
<circle cx="333.52" cy="734.00" r="3.65" fill="none" stroke="#333" stroke-width="1.1"/>
<text x="333.52" y="736.10" font-size="6.3" text-anchor="middle" style="fill:#3a3a3a;stroke:none">3</text>
<circle cx="356.38" cy="734.00" r="3.65" fill="none" stroke="#333" stroke-width="1.1"/>
<text x="356.38" y="736.10" font-size="6.3" text-anchor="middle" style="fill:#3a3a3a;stroke:none">4</text>
<circle cx="379.24" cy="734.00" r="3.65" fill="none" stroke="#333" stroke-width="1.1"/>
<text x="379.24" y="736.10" font-size="6.3" text-anchor="middle" style="fill:#3a3a3a;stroke:none">5</text>
<circle cx="402.10" cy="734.00" r="3.65" fill="none" stroke="#333" stroke-width="1.1"/>
<text x="402.10" y="736.10" font-size="6.3" text-anchor="middle" style="fill:#3a3a3a;stroke:none">6</text>
<text x="346.90" y="753.20" font-size="13.5" text-anchor="middle">Number</text>
<text x="229" y="678.45" font-size="13.5" textLength="14" lengthAdjust="spacingAndGlyphs">&#916;T</text><text x="245.3" y="681.45" font-size="10">ij</text>
<clipPath id="c5"><rect x="40.60" y="766.40" width="175.90" height="89.70"/></clipPath>
<g clip-path="url(#c5)" fill="none" stroke="none">
<polyline points="40.2,802.0 41.7,798.7 42.4,797.6 44.4,799.6 45.0,799.8 46.7,801.7 47.8,802.0 49.1,805.3 50.3,807.4 51.6,798.9 52.4,805.4 53.7,802.8 54.5,809.1 55.9,803.8 56.6,807.5 58.8,796.2 60.0,809.2 60.2,809.1 61.3,802.7 62.9,802.6 64.2,814.3 65.4,806.4 66.4,804.5 67.9,812.3 68.8,805.8 70.0,810.4 70.7,812.2 72.6,810.5 73.2,811.0 75.3,814.8 76.0,802.3 77.0,811.9 78.6,813.3 80.0,808.0 80.3,811.4 81.8,806.8 83.7,812.8 84.7,810.8 85.3,811.8 86.5,811.8 88.2,813.5 88.5,813.2 89.7,807.2 91.4,815.7 92.6,815.4 93.8,814.9 95.2,812.0 96.5,812.8 97.1,811.0 98.2,819.1 100.0,813.8 100.5,815.3 102.4,816.0 103.4,814.5 104.8,822.1 105.7,814.4 106.2,814.9 108.1,820.6 109.1,816.0 109.9,810.4 111.0,817.2 112.3,813.9 113.4,816.8 114.5,819.0 116.6,819.5 117.9,817.7 119.1,811.9 119.8,813.6 121.0,818.9 121.5,813.0 122.8,817.0 124.7,819.0 125.7,815.1 126.9,819.8 128.3,822.1 129.5,812.1 130.6,823.0 130.9,814.7 132.7,821.9 134.3,816.7 135.4,817.2 136.7,818.0 137.4,824.1 138.6,816.8 139.2,816.5 141.0,819.4 142.2,816.4 143.8,812.6 144.9,818.5 145.2,815.1 146.4,819.9 147.9,814.4 149.5,813.4 150.0,806.9 151.9,812.2 152.9,813.7 154.4,810.1 154.9,818.4 156.2,811.1 157.0,816.6 158.7,816.6 160.2,810.4 161.0,813.2 162.2,809.3 163.9,818.6 164.9,812.5 165.5,815.1 167.4,813.8 168.4,819.3 169.0,809.3 170.1,811.6 171.8,815.4 172.8,816.4 174.1,814.5 174.7,806.5 176.7,811.2 178.0,811.7 178.6,808.7 179.7,810.1 181.6,808.8 182.8,806.7 183.0,808.1 184.7,805.7 185.7,812.5 186.7,807.9 188.2,808.9 189.5,806.9 190.4,807.1 191.5,808.8 193.3,807.2 194.3,802.4 195.0,807.4 196.0,809.4 197.5,802.5 199.3,800.6 200.4,804.5 200.8,802.9 202.5,805.6 202.9,803.2 205.2,797.8 206.4,798.4 206.7,800.5 208.1,801.4 209.2,805.6 210.2,798.5 212.0,797.2 212.8,794.8 213.6,791.1 215.0,796.1 216.7,793.3" marker-start="url(#m0)" marker-mid="url(#m0)" marker-end="url(#m0)"/>
<polyline points="41.0,798.0 41.9,803.3 43.5,804.1 44.6,795.3 45.2,802.8 46.2,808.0 47.3,797.8 48.3,804.2 50.3,811.3 51.6,802.8 51.9,799.5 53.6,802.1 55.2,797.9 56.1,804.6 57.0,802.4 58.8,808.5 59.4,804.6 60.4,800.2 61.8,804.2 62.9,805.7 64.1,813.5 65.4,808.3 66.1,811.7 67.9,805.0 69.0,810.6 70.4,807.1 71.0,812.0 71.9,802.3 73.9,813.4 74.7,809.0 76.1,801.1 76.9,809.3 78.2,813.4 79.3,808.5 80.7,807.5 82.1,808.2 82.8,818.2 84.1,810.9 85.4,819.3 86.9,805.6 87.7,812.1 88.5,814.1 90.2,810.5 91.3,811.3 93.1,817.4 93.8,807.8 94.4,814.4 96.3,819.9 96.8,809.1 98.3,808.8 99.1,809.9 100.9,812.6 101.6,817.7 103.7,811.6 104.0,808.4 106.1,812.3 107.2,809.7 107.9,818.0 109.0,811.9 110.1,812.3 111.7,820.8 112.2,821.4 113.6,818.3 114.5,815.6 116.1,814.4 117.0,816.8 119.0,816.4 119.6,816.5 120.6,815.9 121.8,814.2 122.9,814.5 123.9,816.5 125.1,815.4 127.0,817.9 127.5,813.6 129.5,818.1 130.9,810.6 132.0,816.4 132.3,815.4 134.2,818.9 135.2,817.5 136.7,815.6 137.2,816.1 138.7,818.3 139.9,820.1 140.6,815.9 142.2,815.4 143.6,813.9 144.8,811.4 146.1,816.7 146.3,822.6 148.3,815.9 149.0,821.8 150.7,819.7 151.2,811.5 152.6,813.0 153.8,817.1 155.3,816.8 156.4,814.8 157.8,820.4 158.1,812.6 159.6,815.2 161.3,807.3 161.9,817.3 163.8,809.8 164.3,815.6 165.9,809.4 166.4,816.3 168.6,809.8 168.8,813.9 170.4,814.9 171.5,812.3 172.6,809.9 174.0,809.8 175.2,805.4 176.7,807.7 178.1,819.4 179.1,811.4 180.2,816.7 180.7,810.9 181.9,807.1 182.9,813.7 184.1,812.8 186.1,807.5 186.5,809.0 187.9,802.0 189.2,806.0 190.1,805.0 191.5,800.3 192.6,807.8 194.0,805.6 194.9,808.7 195.9,804.0 198.1,800.5 199.1,799.0 200.3,803.4 200.9,805.6 202.8,805.0 203.9,806.8 204.6,801.2 205.6,796.5 207.4,808.8 207.7,808.0 209.5,794.7 211.0,804.6 212.3,797.3 213.5,802.3 214.1,794.9 214.8,794.6 216.3,796.0" marker-start="url(#m1)" marker-mid="url(#m1)" marker-end="url(#m1)"/>
<polyline points="40.3,800.6 41.8,792.8 42.6,800.4 44.0,793.3 45.6,796.6 46.2,803.7 47.6,802.7 49.0,795.0 49.6,798.3 50.8,802.7 53.0,802.2 54.0,802.6 55.2,806.4 56.0,804.7 57.1,806.6 57.8,806.1 59.2,803.3 60.2,808.7 61.9,803.2 63.0,805.7 63.8,803.7 64.9,803.6 66.7,802.8 67.3,805.2 68.4,805.2 69.8,808.7 71.6,806.6 72.7,812.0 73.7,809.9 74.5,806.7 76.0,809.8 76.6,808.2 78.2,813.9 79.5,805.7 80.3,812.7 82.0,809.6 83.0,811.3 83.8,808.1 85.0,813.0 86.6,815.5 88.3,819.0 88.5,813.4 90.3,816.9 91.1,810.9 92.4,808.0 94.2,821.2 95.1,818.0 95.8,812.5 97.2,809.5 99.0,813.0 100.1,813.1 100.7,812.5 102.0,812.5 103.1,808.8 103.9,812.6 106.1,819.3 106.4,816.7 107.6,814.4 108.6,818.1 110.8,816.3 111.9,817.4 112.8,818.1 113.8,813.2 115.1,817.1 116.0,819.7 117.8,818.4 118.6,815.8 120.1,808.6 121.1,815.2 122.3,810.9 123.4,814.4 124.7,823.8 126.0,814.9 127.0,819.2 127.7,821.0 128.9,820.0 130.0,809.9 131.9,821.8 132.7,818.4 133.3,812.1 135.2,813.8 136.6,822.1 137.9,816.4 139.1,817.8 140.2,816.6 140.6,813.2 142.1,817.8 143.6,816.8 144.7,810.4 145.5,822.1 146.3,816.8 148.5,813.6 149.5,819.6 150.8,817.3 151.4,819.6 152.5,814.3 154.3,816.8 155.3,811.7 156.5,810.7 156.9,814.1 158.2,815.4 160.2,812.9 161.5,813.4 162.0,817.8 163.8,809.4 164.2,812.3 165.8,810.0 166.7,817.5 168.1,809.3 168.9,804.8 170.3,809.7 171.6,816.8 172.9,811.2 173.7,811.4 175.3,810.0 176.0,811.5 178.1,808.4 178.4,811.7 179.4,809.0 180.8,811.9 182.3,808.7 183.4,805.2 184.8,810.1 185.3,805.8 186.9,810.9 188.2,808.6 189.9,807.6 191.0,802.0 191.8,808.9 192.7,801.6 193.6,810.8 195.4,805.5 196.5,801.4 197.6,801.7 199.1,807.3 199.9,807.7 201.5,799.7 202.1,807.0 203.3,800.0 205.2,803.2 206.0,801.0 207.6,792.1 207.7,794.8 209.9,796.4 210.1,804.2 212.1,797.3 213.1,797.8 213.7,798.1 215.1,792.3 216.5,802.5" marker-start="url(#m2)" marker-mid="url(#m2)" marker-end="url(#m2)"/>
<polyline points="40.6,797.7 42.3,803.1 43.3,802.2 44.1,802.2 44.9,798.5 46.4,804.3 47.6,795.9 48.7,800.2 50.3,810.1 51.6,796.5 52.8,802.4 53.2,805.2 54.4,803.2 56.1,810.8 57.4,803.9 58.6,813.9 60.0,809.1 60.5,800.6 61.3,801.2 62.9,807.5 64.0,810.1 64.9,803.5 66.8,807.6 67.8,806.9 69.1,805.7 70.5,812.4 71.4,805.8 72.9,816.8 74.0,804.0 74.9,815.3 76.2,812.2 77.2,812.6 78.2,807.7 79.8,808.0 80.9,809.6 81.8,809.2 83.3,809.8 84.3,812.0 85.0,818.8 86.9,820.7 87.8,820.8 89.5,812.9 90.7,813.8 90.9,813.5 92.3,812.4 94.0,814.4 94.6,817.3 96.5,819.4 97.5,821.0 99.0,809.8 99.5,811.0 101.0,819.5 102.1,815.7 103.4,813.2 104.9,809.2 105.4,817.3 106.4,814.6 108.2,811.2 108.7,821.8 110.3,818.3 111.9,815.9 113.0,818.5 114.0,808.1 114.4,812.7 116.7,815.3 117.3,819.6 118.3,813.0 119.2,813.9 120.5,818.1 121.5,817.9 123.3,821.7 124.3,816.7 125.4,813.2 127.2,812.8 127.5,814.3 129.0,813.4 130.7,818.6 131.9,818.1 132.9,812.0 133.9,814.7 134.6,819.3 136.1,814.5 137.7,813.2 138.9,813.6 139.9,815.8 141.4,818.0 142.2,814.5 143.7,809.7 145.0,815.3 145.3,818.2 146.4,814.4 148.6,820.0 149.0,814.6 150.3,816.4 151.5,811.7 153.2,814.6 153.4,811.1 155.1,806.3 156.2,815.4 157.0,817.6 158.6,812.6 160.3,814.3 160.5,813.5 161.9,815.9 163.5,811.4 164.6,813.0 166.0,820.9 166.7,813.7 167.7,811.5 169.1,808.1 170.8,814.2 171.6,814.8 172.7,807.4 174.3,813.5 175.3,810.7 175.9,809.2 177.4,807.8 179.2,810.1 179.4,814.1 181.4,805.8 182.0,810.9 183.7,810.8 184.2,801.4 186.0,805.0 187.4,811.7 187.7,809.5 189.9,807.9 190.1,809.7 191.1,813.6 193.3,803.0 194.1,802.8 194.7,804.6 196.6,806.2 197.6,803.6 199.4,801.5 200.5,807.2 201.6,804.2 202.4,804.7 203.9,799.5 205.0,800.7 205.6,806.1 207.3,802.9 208.0,794.0 209.3,803.4 210.1,799.0 211.4,801.3 213.0,793.7 214.5,797.8 215.7,798.6 216.1,801.1" marker-start="url(#m3)" marker-mid="url(#m3)" marker-end="url(#m3)"/>
<polyline points="40.8,798.4 41.6,797.7 43.0,801.0 43.8,801.3 44.9,804.5 46.3,798.9 48.0,804.0 48.4,800.1 49.5,807.2 50.9,797.6 52.7,806.9 54.0,799.5 54.5,805.4 56.5,802.5 57.1,805.2 58.5,802.6 59.7,805.4 60.6,801.2 62.2,803.8 63.5,804.2 64.2,800.8 65.2,809.6 67.1,803.0 68.0,807.6 68.8,813.5 69.7,806.7 71.2,809.5 72.4,803.0 74.0,811.3 75.1,809.6 76.0,809.2 77.7,817.3 78.5,808.7 80.0,814.5 80.2,805.9 81.4,805.2 83.5,811.7 84.6,817.6 85.2,811.4 86.2,811.6 87.3,809.9 88.8,813.8 90.6,817.4 91.0,813.7 92.2,816.7 94.1,807.3 94.5,816.3 95.8,816.3 97.6,814.4 98.9,818.9 100.1,816.2 100.3,815.1 101.8,816.5 103.3,815.9 104.2,810.6 105.8,813.7 106.4,820.1 108.0,817.0 108.7,812.9 109.8,818.0 111.8,815.5 112.8,816.0 113.9,814.1 114.8,816.7 116.4,816.7 117.9,819.3 118.4,815.0 119.2,819.7 120.6,810.1 122.4,816.5 123.0,817.3 124.7,813.7 125.3,816.8 126.9,816.2 127.8,816.7 129.2,819.2 130.2,819.9 131.6,819.0 133.0,812.4 134.1,818.7 135.0,817.9 135.7,818.0 137.8,813.8 138.1,809.2 139.6,819.6 141.3,814.2 142.7,815.6 143.6,817.1 144.0,814.2 146.2,820.4 146.3,812.8 147.5,814.9 149.5,819.1 150.9,809.6 151.7,812.2 153.2,810.9 154.1,820.2 154.6,815.9 156.4,816.5 157.8,812.2 158.6,809.5 160.1,821.0 161.0,813.9 161.7,814.3 163.8,809.9 164.2,813.6 165.4,817.8 166.5,813.7 167.9,816.5 169.2,815.3 170.1,812.1 171.2,813.8 172.8,810.7 173.4,817.0 175.2,802.8 175.9,806.5 177.1,808.1 178.3,815.1 180.3,817.6 181.5,812.7 182.8,810.0 183.8,800.9 184.6,804.0 185.7,810.3 187.1,803.6 188.3,803.2 189.9,807.0 190.3,802.6 192.2,805.2 193.4,808.3 194.6,809.8 195.4,805.7 196.6,801.3 198.2,809.2 198.7,809.9 200.3,801.5 200.7,812.4 202.0,796.3 203.5,803.9 205.0,799.1 205.5,794.8 207.4,805.9 208.3,804.1 209.0,792.0 210.1,800.6 211.7,799.4 213.3,797.3 214.7,793.8 215.6,792.4 216.2,796.5" marker-start="url(#m4)" marker-mid="url(#m4)" marker-end="url(#m4)"/>
<polyline points="41.1,793.6 41.6,797.0 42.6,796.0 44.7,799.8 45.5,797.1 47.0,803.3 47.6,803.9 49.0,803.5 49.8,796.4 51.8,797.2 52.1,805.1 54.1,799.4 54.6,804.3 56.3,800.4 57.3,805.7 58.6,801.6 59.1,805.6 61.3,806.9 61.8,806.1 62.5,805.6 64.4,808.9 64.9,811.8 66.7,801.3 68.0,809.2 68.6,814.5 69.7,816.4 70.9,817.7 72.7,811.2 73.9,804.5 75.3,815.6 75.8,811.0 76.7,816.7 78.5,806.5 80.0,809.5 81.0,809.9 81.9,806.3 82.8,805.5 84.5,808.1 85.9,814.1 86.3,816.9 88.1,816.2 89.3,819.0 90.8,806.4 91.2,813.7 92.4,812.8 93.2,812.7 94.5,806.3 96.4,815.9 97.0,809.7 98.9,813.2 99.4,814.9 101.2,821.5 101.8,811.3 103.5,817.5 104.3,816.6 105.2,814.2 106.4,814.8 107.6,811.3 108.6,817.8 110.7,815.0 111.9,814.7 113.0,815.7 113.2,813.3 115.4,816.9 116.5,811.7 117.7,818.7 118.7,821.3 119.4,816.3 120.6,812.0 121.9,818.1 122.9,818.6 123.9,817.6 126.1,815.8 126.6,817.0 128.1,815.3 128.7,822.6 130.7,811.0 131.8,814.3 132.1,819.5 133.5,811.4 135.3,814.7 135.7,811.0 136.8,820.5 138.1,810.2 139.3,816.0 141.3,823.5 142.5,813.2 143.4,817.0 144.3,819.5 146.0,816.4 147.0,822.6 147.5,813.4 148.8,816.2 150.6,816.2 151.6,810.0 152.6,814.9 154.0,817.2 154.8,818.2 156.4,814.7 157.0,810.6 159.2,816.2 160.2,817.7 161.0,810.5 162.8,813.3 163.6,813.5 164.6,805.7 165.9,817.4 167.2,812.0 168.7,818.9 169.6,813.3 170.2,810.0 171.1,807.9 173.3,816.0 174.3,808.2 175.3,808.2 176.3,811.2 178.1,801.5 178.2,810.3 179.5,813.1 180.9,808.0 182.8,815.8 183.7,803.2 184.7,804.9 185.6,809.7 186.6,805.7 187.6,805.7 188.9,800.3 190.1,809.1 191.7,811.0 192.7,813.4 194.6,806.5 195.7,810.7 196.5,805.4 197.2,803.0 198.6,805.6 199.4,807.1 201.3,798.7 202.2,803.4 204.0,801.1 204.5,798.3 206.3,805.8 206.9,804.1 208.4,791.3 209.2,800.4 211.0,802.8 211.5,799.8 212.6,800.4 213.6,802.3 215.2,798.7 216.8,796.5" marker-start="url(#m6)" marker-mid="url(#m6)" marker-end="url(#m6)"/>
</g>
<rect x="40.60" y="766.40" width="175.90" height="89.70" fill="none" stroke="#7a7a7a" stroke-width="1.2"/>
<path d="M40.60,788.83h4M40.60,811.25h4M40.60,833.67h4M84.58,856.10v-4M128.55,856.10v-4M172.53,856.10v-4" stroke="#7a7a7a" stroke-width="1.1" fill="none"/>
<text x="35.97" y="771.10" font-size="14" text-anchor="end">60</text>
<text x="35.97" y="793.53" font-size="14" text-anchor="end">30</text>
<text x="35.97" y="815.95" font-size="14" text-anchor="end">0</text>
<text x="35.97" y="838.38" font-size="14" text-anchor="end">-30</text>
<text x="35.97" y="860.80" font-size="14" text-anchor="end">-60</text>
<text x="40.60" y="871.70" font-size="14" text-anchor="middle">0</text>
<text x="84.58" y="871.70" font-size="14" text-anchor="middle">3</text>
<text x="128.55" y="871.70" font-size="14" text-anchor="middle">6</text>
<text x="172.53" y="871.70" font-size="14" text-anchor="middle">9</text>
<text x="216.50" y="871.70" font-size="14" text-anchor="middle">12</text>
<text x="128.55" y="885.80" font-size="14" text-anchor="middle">Time (s)</text>
<text x="4.30" y="815.65" font-size="13.5" textLength="6.9" lengthAdjust="spacingAndGlyphs">&#931;</text><text x="10.70" y="815.65" font-size="14.5" font-style="italic">x</text><text x="18.80" y="818.65" font-size="10">ij</text>
<clipPath id="b5"><rect x="278.60" y="766.40" width="136.60" height="89.70"/></clipPath>
<g clip-path="url(#b5)" fill="#CCE3FA" stroke="#9AA6B2" stroke-width="1">
<rect x="283.08" y="817.35" width="13.8" height="38.75"/>
<rect x="305.85" y="819.91" width="13.8" height="36.19"/>
<rect x="328.62" y="820.53" width="13.8" height="35.57"/>
<rect x="351.38" y="818.83" width="13.8" height="37.27"/>
<rect x="374.15" y="817.62" width="13.8" height="38.48"/>
<rect x="396.92" y="816.54" width="13.8" height="39.56"/>
</g>
<path d="M278.60,841.90H415.20" stroke="#FA0A0A" stroke-width="2.5"/>
<rect x="278.60" y="766.40" width="136.60" height="89.70" fill="none" stroke="#7a7a7a" stroke-width="1.2"/>
<path d="M278.60,788.83h4M278.60,811.25h4M278.60,833.68h4" stroke="#7a7a7a" stroke-width="1.1" fill="none"/>
<text x="273.6" y="771.10" font-size="14" text-anchor="end">200</text>
<text x="273.6" y="793.53" font-size="14" text-anchor="end">150</text>
<text x="273.6" y="815.95" font-size="14" text-anchor="end">100</text>
<text x="273.6" y="838.38" font-size="14" text-anchor="end">50</text>
<text x="273.6" y="860.80" font-size="14" text-anchor="end">0</text>
<circle cx="287.80" cy="871.40" r="3.65" fill="none" stroke="#333" stroke-width="1.1"/>
<text x="287.80" y="873.50" font-size="6.3" text-anchor="middle" style="fill:#3a3a3a;stroke:none">1</text>
<circle cx="310.66" cy="871.40" r="3.65" fill="none" stroke="#333" stroke-width="1.1"/>
<text x="310.66" y="873.50" font-size="6.3" text-anchor="middle" style="fill:#3a3a3a;stroke:none">2</text>
<circle cx="333.52" cy="871.40" r="3.65" fill="none" stroke="#333" stroke-width="1.1"/>
<text x="333.52" y="873.50" font-size="6.3" text-anchor="middle" style="fill:#3a3a3a;stroke:none">3</text>
<circle cx="356.38" cy="871.40" r="3.65" fill="none" stroke="#333" stroke-width="1.1"/>
<text x="356.38" y="873.50" font-size="6.3" text-anchor="middle" style="fill:#3a3a3a;stroke:none">4</text>
<circle cx="379.24" cy="871.40" r="3.65" fill="none" stroke="#333" stroke-width="1.1"/>
<text x="379.24" y="873.50" font-size="6.3" text-anchor="middle" style="fill:#3a3a3a;stroke:none">5</text>
<circle cx="402.10" cy="871.40" r="3.65" fill="none" stroke="#333" stroke-width="1.1"/>
<text x="402.10" y="873.50" font-size="6.3" text-anchor="middle" style="fill:#3a3a3a;stroke:none">6</text>
<text x="346.90" y="890.60" font-size="13.5" text-anchor="middle">Number</text>
<text x="229" y="815.85" font-size="13.5" textLength="14" lengthAdjust="spacingAndGlyphs">&#931;T</text><text x="245.3" y="818.85" font-size="10">ij</text>
<g transform="translate(438.2,44.60) scale(0.95)"><rect x="-3.00" y="-3.00" width="6.00" height="6.00" fill="#4b4b4b"/></g>
<circle cx="459.5" cy="45.60" r="3.75" fill="none" stroke="#333" stroke-width="1.1"/>
<text x="459.5" y="47.70" font-size="6.3" text-anchor="middle" style="fill:#3a3a3a;stroke:none">1</text>
<text x="475.8" y="49.40" font-size="13.5">PRN 2&amp;11</text>
<g transform="translate(438.2,84.25) scale(0.95)"><circle r="3.50" fill="#EE3B3B"/></g>
<circle cx="459.5" cy="85.25" r="3.75" fill="none" stroke="#333" stroke-width="1.1"/>
<text x="459.5" y="87.35" font-size="6.3" text-anchor="middle" style="fill:#3a3a3a;stroke:none">2</text>
<text x="475.8" y="89.05" font-size="13.5">PRN 2&amp;14</text>
<g transform="translate(438.2,123.90) scale(0.95)"><path d="M0,-4.00 L4.20,2.90 L-4.20,2.90Z" fill="#1C5EE4"/></g>
<circle cx="459.5" cy="124.90" r="3.75" fill="none" stroke="#333" stroke-width="1.1"/>
<text x="459.5" y="127.00" font-size="6.3" text-anchor="middle" style="fill:#3a3a3a;stroke:none">3</text>
<text x="475.8" y="128.70" font-size="13.5">PRN 2&amp;21</text>
<g transform="translate(438.2,163.55) scale(0.95)"><path d="M0,3.70 L4.20,-3.00 L-4.20,-3.00Z" fill="#2DA866"/></g>
<circle cx="459.5" cy="164.55" r="3.75" fill="none" stroke="#333" stroke-width="1.1"/>
<text x="459.5" y="166.65" font-size="6.3" text-anchor="middle" style="fill:#3a3a3a;stroke:none">4</text>
<text x="475.8" y="168.35" font-size="13.5">PRN 11&amp;14</text>
<g transform="translate(438.2,203.20) scale(0.95)"><path d="M0,-4.00 L4.20,0 L0,4.00 L-4.20,0Z" fill="#A86FE6"/></g>
<circle cx="459.5" cy="204.20" r="3.75" fill="none" stroke="#333" stroke-width="1.1"/>
<text x="459.5" y="206.30" font-size="6.3" text-anchor="middle" style="fill:#3a3a3a;stroke:none">5</text>
<text x="475.8" y="208.00" font-size="13.5">PRN 11&amp;21</text>
<g transform="translate(438.2,242.85) scale(0.95)"><path d="M0.00,-3.90 L1.00,-1.38 L3.71,-1.21 L1.62,0.53 L2.29,3.16 L0.00,1.70 L-2.29,3.16 L-1.62,0.53 L-3.71,-1.21 L-1.00,-1.38Z" fill="#F2B400"/></g>
<circle cx="459.5" cy="243.85" r="3.75" fill="none" stroke="#333" stroke-width="1.1"/>
<text x="459.5" y="245.95" font-size="6.3" text-anchor="middle" style="fill:#3a3a3a;stroke:none">6</text>
<text x="475.8" y="247.65" font-size="13.5">PRN 14&amp;21</text>
<g transform="translate(438.2,341.00) scale(0.95)"><rect x="-3.00" y="-3.00" width="6.00" height="6.00" fill="#4b4b4b"/></g>
<circle cx="459.5" cy="342.00" r="3.75" fill="none" stroke="#333" stroke-width="1.1"/>
<text x="459.5" y="344.10" font-size="6.3" text-anchor="middle" style="fill:#3a3a3a;stroke:none">1</text>
<text x="476.6" y="345.80" font-size="13.5">PRN 5&amp;10</text>
<g transform="translate(438.2,380.65) scale(0.95)"><circle r="3.50" fill="#EE3B3B"/></g>
<circle cx="459.5" cy="381.65" r="3.75" fill="none" stroke="#333" stroke-width="1.1"/>
<text x="459.5" y="383.75" font-size="6.3" text-anchor="middle" style="fill:#3a3a3a;stroke:none">2</text>
<text x="476.6" y="385.45" font-size="13.5">PRN 5&amp;16</text>
<g transform="translate(438.2,420.30) scale(0.95)"><path d="M0,-4.00 L4.20,2.90 L-4.20,2.90Z" fill="#1C5EE4"/></g>
<circle cx="459.5" cy="421.30" r="3.75" fill="none" stroke="#333" stroke-width="1.1"/>
<text x="459.5" y="423.40" font-size="6.3" text-anchor="middle" style="fill:#3a3a3a;stroke:none">3</text>
<text x="476.6" y="425.10" font-size="13.5">PRN 5&amp;33</text>
<g transform="translate(438.2,459.95) scale(0.95)"><path d="M0,3.70 L4.20,-3.00 L-4.20,-3.00Z" fill="#2DA866"/></g>
<circle cx="459.5" cy="460.95" r="3.75" fill="none" stroke="#333" stroke-width="1.1"/>
<text x="459.5" y="463.05" font-size="6.3" text-anchor="middle" style="fill:#3a3a3a;stroke:none">4</text>
<text x="476.6" y="464.75" font-size="13.5">PRN 10&amp;16</text>
<g transform="translate(438.2,499.60) scale(0.95)"><path d="M0,-4.00 L4.20,0 L0,4.00 L-4.20,0Z" fill="#A86FE6"/></g>
<circle cx="459.5" cy="500.60" r="3.75" fill="none" stroke="#333" stroke-width="1.1"/>
<text x="459.5" y="502.70" font-size="6.3" text-anchor="middle" style="fill:#3a3a3a;stroke:none">5</text>
<text x="476.6" y="504.40" font-size="13.5">PRN 10&amp;33</text>
<g transform="translate(438.2,539.25) scale(0.95)"><path d="M0.00,-3.90 L1.00,-1.38 L3.71,-1.21 L1.62,0.53 L2.29,3.16 L0.00,1.70 L-2.29,3.16 L-1.62,0.53 L-3.71,-1.21 L-1.00,-1.38Z" fill="#F2B400"/></g>
<circle cx="459.5" cy="540.25" r="3.75" fill="none" stroke="#333" stroke-width="1.1"/>
<text x="459.5" y="542.35" font-size="6.3" text-anchor="middle" style="fill:#3a3a3a;stroke:none">6</text>
<text x="476.6" y="544.05" font-size="13.5">PRN 16&amp;33</text>
<g transform="translate(438.2,639.00) scale(0.95)"><rect x="-3.00" y="-3.00" width="6.00" height="6.00" fill="#4b4b4b"/></g>
<circle cx="459.5" cy="640.00" r="3.75" fill="none" stroke="#333" stroke-width="1.1"/>
<text x="459.5" y="642.10" font-size="6.3" text-anchor="middle" style="fill:#3a3a3a;stroke:none">1</text>
<text x="476.6" y="643.80" font-size="13.5">PRN 2&amp;5</text>
<g transform="translate(438.2,678.65) scale(0.95)"><circle r="3.50" fill="#EE3B3B"/></g>
<circle cx="459.5" cy="679.65" r="3.75" fill="none" stroke="#333" stroke-width="1.1"/>
<text x="459.5" y="681.75" font-size="6.3" text-anchor="middle" style="fill:#3a3a3a;stroke:none">2</text>
<text x="476.6" y="683.45" font-size="13.5">PRN 2&amp;10</text>
<g transform="translate(438.2,718.30) scale(0.95)"><path d="M0,-4.00 L4.20,2.90 L-4.20,2.90Z" fill="#1C5EE4"/></g>
<circle cx="459.5" cy="719.30" r="3.75" fill="none" stroke="#333" stroke-width="1.1"/>
<text x="459.5" y="721.40" font-size="6.3" text-anchor="middle" style="fill:#3a3a3a;stroke:none">3</text>
<text x="476.6" y="723.10" font-size="13.5">PRN 2&amp;16</text>
<g transform="translate(438.2,757.95) scale(0.95)"><path d="M0,3.70 L4.20,-3.00 L-4.20,-3.00Z" fill="#2DA866"/></g>
<circle cx="459.5" cy="758.95" r="3.75" fill="none" stroke="#333" stroke-width="1.1"/>
<text x="459.5" y="761.05" font-size="6.3" text-anchor="middle" style="fill:#3a3a3a;stroke:none">4</text>
<text x="476.6" y="762.75" font-size="13.5">PRN 14&amp;10</text>
<g transform="translate(438.2,797.60) scale(0.95)"><path d="M0,-4.00 L4.20,0 L0,4.00 L-4.20,0Z" fill="#A86FE6"/></g>
<circle cx="459.5" cy="798.60" r="3.75" fill="none" stroke="#333" stroke-width="1.1"/>
<text x="459.5" y="800.70" font-size="6.3" text-anchor="middle" style="fill:#3a3a3a;stroke:none">5</text>
<text x="476.6" y="802.40" font-size="13.5">PRN 14&amp;16</text>
<g transform="translate(438.2,837.25) scale(0.95)"><path d="M0.00,-3.90 L1.00,-1.38 L3.71,-1.21 L1.62,0.53 L2.29,3.16 L0.00,1.70 L-2.29,3.16 L-1.62,0.53 L-3.71,-1.21 L-1.00,-1.38Z" fill="#F2B400"/></g>
<circle cx="459.5" cy="838.25" r="3.75" fill="none" stroke="#333" stroke-width="1.1"/>
<text x="459.5" y="840.35" font-size="6.3" text-anchor="middle" style="fill:#3a3a3a;stroke:none">6</text>
<text x="476.6" y="842.05" font-size="13.5">PRN 14&amp;33</text>
</svg></body></html>
